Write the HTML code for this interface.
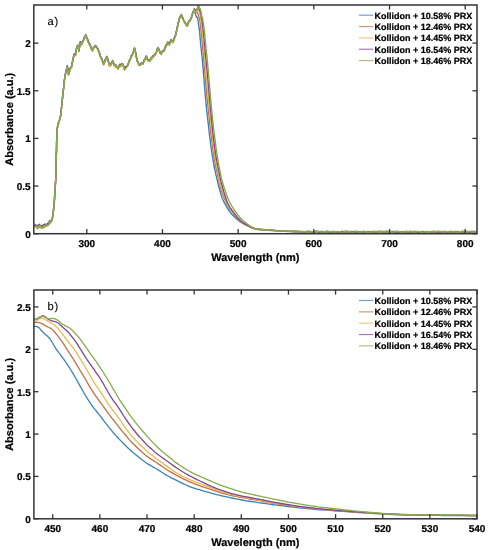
<!DOCTYPE html><html><head><meta charset="utf-8"><style>html,body{margin:0;padding:0;background:#fff;}svg{display:block;}text{font-family:"Liberation Sans",Arial,sans-serif;font-weight:bold;fill:#000;stroke:#000;stroke-width:0.22px;text-rendering:geometricPrecision;}</style></head><body>
<svg width="489" height="550" viewBox="0 0 489 550">
<rect width="489" height="550" fill="#fff"/>
<clipPath id="ca"><rect x="33.8" y="5.0" width="443.20" height="228.70"/></clipPath>
<clipPath id="cb"><rect x="33.9" y="290.0" width="443.10" height="228.80"/></clipPath>
<g clip-path="url(#ca)" fill="none" stroke-width="1.4" stroke-linejoin="round">
<polyline stroke="#3784bd" points="33.8,226.1 34.6,226.0 35.4,224.6 36.1,226.0 36.9,227.8 37.8,228.5 38.6,226.2 39.5,226.2 40.3,226.1 41.0,225.8 41.6,226.1 42.2,226.1 42.8,227.9 43.4,226.2 44.1,227.2 44.7,224.6 45.7,226.3 46.7,225.0 47.4,225.6 48.0,224.7 48.7,224.9 49.6,220.5 50.6,222.6 51.6,220.8 52.6,217.3 53.0,214.6 53.3,212.3 53.5,210.1 53.8,208.0 54.0,205.9 54.1,203.7 54.3,201.5 54.5,199.2 54.6,197.0 54.7,194.9 54.9,192.8 55.0,190.6 55.2,187.5 55.4,184.3 55.6,181.5 55.8,178.7 55.8,176.5 55.9,174.4 56.0,172.2 56.0,169.5 56.1,166.9 56.1,164.2 56.2,161.5 56.3,158.7 56.3,155.9 56.4,153.2 56.5,150.4 56.5,147.7 56.6,144.9 56.6,142.2 56.7,139.9 56.8,137.7 56.9,135.5 57.0,133.2 57.2,130.5 57.4,128.0 57.9,124.9 58.6,122.6 59.3,120.9 60.0,118.4 60.7,115.6 60.9,113.4 61.2,111.3 61.4,108.8 61.7,106.1 61.9,103.5 62.2,100.7 62.5,98.4 62.7,96.0 63.0,93.8 63.2,91.6 63.5,89.4 63.8,87.1 64.0,84.5 64.2,82.3 64.5,79.7 65.0,76.8 65.4,74.5 65.9,71.9 66.6,69.3 67.3,66.2 67.7,69.0 68.2,71.6 68.6,74.4 69.3,72.0 70.0,68.6 70.7,67.7 71.4,67.4 71.8,65.5 72.3,62.9 72.7,60.6 73.2,58.6 73.6,57.0 74.1,54.4 74.8,54.5 75.5,55.0 75.9,52.6 76.4,49.4 76.8,47.3 77.5,46.3 78.2,45.6 78.6,48.6 78.9,50.9 79.3,48.3 79.8,45.5 80.2,42.2 80.9,43.8 81.6,44.0 82.3,42.1 83.0,41.1 83.7,39.7 84.3,38.1 85.0,37.3 85.7,35.6 86.4,37.2 87.1,39.3 87.8,40.8 88.4,41.8 89.1,43.5 89.8,44.6 90.5,45.9 91.2,48.4 91.8,50.1 92.5,50.3 93.2,48.4 93.9,47.0 94.6,47.4 95.2,46.2 95.9,46.6 96.5,47.5 97.1,47.9 97.9,49.7 98.7,51.7 99.6,53.1 100.4,56.7 101.2,58.6 102.0,59.1 102.8,62.1 103.6,64.5 104.4,62.7 105.3,60.2 106.1,58.9 106.9,57.0 107.5,58.7 108.1,61.1 108.8,62.8 109.4,65.4 110.2,64.8 111.0,64.7 111.8,63.5 112.6,61.7 113.2,63.1 113.9,64.3 114.7,66.4 115.5,66.3 116.1,66.8 116.7,67.3 117.3,68.2 118.0,68.7 118.6,67.7 119.2,65.8 120.0,65.2 120.8,65.5 121.4,64.5 122.0,63.7 122.7,64.7 123.3,66.0 123.9,66.8 124.5,69.7 125.1,67.9 125.7,68.1 126.6,66.0 127.4,65.8 128.2,64.4 129.0,61.4 129.6,60.1 130.2,59.5 130.9,57.5 131.6,55.7 132.2,55.4 132.9,54.4 133.7,51.1 134.5,48.7 135.1,50.5 135.7,53.1 136.1,55.8 136.6,57.9 137.0,60.9 137.6,61.6 138.2,63.0 139.0,65.2 139.8,65.6 140.7,64.5 141.5,63.2 142.3,63.7 143.1,63.9 143.9,60.9 144.7,60.2 145.6,59.2 146.4,56.9 147.2,59.2 148.0,60.1 148.8,60.3 149.6,60.6 150.4,60.2 151.3,57.8 152.1,58.6 152.9,56.5 153.7,55.8 154.5,55.6 155.3,54.0 156.2,52.8 157.0,50.4 157.8,47.7 158.6,49.1 159.4,50.6 160.2,53.4 161.1,54.6 161.9,52.0 162.7,51.2 163.6,50.2 164.4,49.8 165.3,48.0 166.2,46.2 166.9,44.6 167.6,42.7 168.4,43.2 169.3,44.4 170.2,42.9 171.1,40.2 171.9,41.5 172.8,41.4 173.4,40.6 174.0,39.3 174.8,37.4 175.6,35.4 176.2,32.4 176.9,29.8 177.5,26.6 178.1,24.2 178.7,21.5 179.3,19.1 179.9,17.7 180.5,16.3 181.4,15.0 182.2,17.4 182.8,18.3 183.4,19.8 184.2,21.8 185.0,22.4 185.8,23.8 186.7,26.3 187.5,25.8 188.1,23.3 188.7,22.1 189.3,21.1 189.9,21.2 190.6,19.1 191.2,18.5 191.8,16.2 192.4,14.7 193.0,12.2 193.6,11.1 194.4,10.4 195.7,14.8 196.5,17.3 197.0,17.1 197.2,17.2 197.3,17.3 197.5,17.6 197.6,18.2 197.8,19.0 198.0,20.2 198.1,21.5 198.3,22.7 198.4,23.9 198.6,25.0 198.8,25.9 198.9,26.9 199.1,27.9 199.2,29.0 199.4,30.1 199.6,31.5 199.7,33.1 199.9,34.9 200.0,36.8 200.2,38.8 200.4,40.7 200.5,42.6 200.7,44.3 200.8,45.8 201.0,47.2 201.2,48.6 201.3,50.1 201.5,51.6 201.6,53.1 201.8,54.7 202.0,56.3 202.1,57.9 202.3,59.6 202.5,61.3 202.6,63.1 202.8,64.8 202.9,66.6 203.1,68.5 203.3,70.4 203.4,72.3 203.6,74.2 203.7,76.2 203.9,78.2 204.1,80.2 204.2,82.3 204.4,84.3 204.5,86.3 204.7,88.3 204.9,90.2 205.0,92.2 205.2,94.2 205.3,96.0 205.5,97.8 205.7,99.6 205.8,101.3 206.0,103.0 206.1,104.7 206.3,106.4 206.5,107.9 206.6,109.4 206.8,110.9 206.9,112.2 207.1,113.6 207.3,115.0 207.4,116.4 207.6,117.8 207.7,119.2 207.9,120.7 208.1,122.2 208.2,123.7 208.4,125.2 208.6,126.7 208.7,128.1 208.9,129.5 209.0,130.9 209.2,132.3 209.4,133.7 209.5,135.1 209.7,136.4 209.8,137.7 210.0,139.0 210.2,140.2 210.3,141.5 210.5,142.7 210.6,143.9 211.1,147.3 211.6,150.7 212.1,154.0 212.6,157.1 213.0,160.0 213.5,162.8 214.0,165.6 214.5,168.2 215.0,170.6 215.5,172.7 215.9,174.7 216.4,176.6 216.9,178.6 217.4,180.8 217.9,183.0 218.3,185.0 218.8,186.8 219.3,188.5 219.8,190.2 220.3,191.8 220.8,193.5 221.2,195.1 221.7,196.6 222.2,198.0 222.7,199.2 223.2,200.3 223.6,201.2 224.1,202.2 224.6,203.1 225.1,204.1 225.6,205.0 226.1,205.9 226.5,206.8 227.0,207.6 227.5,208.4 228.0,209.1 228.5,209.9 228.9,210.6 229.4,211.3 229.9,211.9 230.4,212.6 230.9,213.2 231.4,213.7 231.8,214.2 232.3,214.7 232.8,215.2 233.3,215.7 233.8,216.2 234.2,216.7 234.7,217.2 235.2,217.6 235.7,218.1 236.2,218.5 236.6,218.9 237.1,219.3 237.6,219.8 238.1,220.2 238.6,220.6 239.1,220.9 239.5,221.3 240.0,221.7 240.5,222.0 241.0,222.3 241.5,222.6 241.9,222.9 242.4,223.2 242.9,223.5 243.4,223.8 243.9,224.0 244.4,224.3 244.8,224.5 245.3,224.7 245.8,225.0 246.3,225.2 246.8,225.4 247.2,225.7 247.7,225.9 248.2,226.2 248.7,226.4 249.2,226.6 249.7,226.9 250.1,227.1 250.6,227.3 251.1,227.5 251.6,227.7 252.1,227.9 252.5,228.1 253.0,228.3 253.5,228.5 254.0,228.7 254.5,228.9 255.0,229.0 255.4,229.1 255.9,229.3 256.4,229.4 256.9,229.4 257.4,229.5 257.8,229.5 258.3,229.6 258.8,229.6 259.3,229.7 259.8,229.7 260.3,229.8 260.7,229.8 261.2,229.9 261.7,229.9 262.2,229.9 262.7,230.0 263.1,230.0 263.6,230.0 264.1,230.1 264.6,230.1 265.1,230.1 265.5,230.2 266.0,230.2 266.5,230.2 267.0,230.2 267.5,230.3 268.0,230.3 268.1,230.3 277.0,230.7 285.0,231.4 295.0,231.5 305.0,231.7 307.0,232.2 308.6,231.4 310.2,231.5 311.8,232.0 313.4,231.6 315.0,231.4 316.6,232.1 318.2,231.7 319.8,232.1 321.4,231.4 323.0,231.7 324.6,232.0 326.2,231.3 327.8,231.5 329.4,232.0 331.0,232.2 332.6,232.3 334.2,231.4 335.8,231.8 337.4,232.1 339.0,231.8 340.6,232.0 342.2,231.5 343.8,231.4 345.4,231.4 347.0,231.3 348.6,231.9 350.2,231.8 351.8,231.9 353.4,231.4 355.0,231.5 356.6,231.5 358.2,232.1 359.8,232.3 361.4,232.2 363.0,231.4 364.6,231.4 366.2,232.3 367.8,231.8 369.4,232.1 371.0,231.6 372.6,231.8 374.2,231.8 375.8,231.7 377.4,231.9 379.0,231.3 380.6,232.0 382.2,232.1 383.8,231.5 385.4,231.8 387.0,232.0 388.6,231.7 390.2,231.5 391.8,231.5 393.4,231.8 395.0,231.3 396.6,232.2 398.2,232.1 399.8,232.0 401.4,232.2 403.0,231.9 404.6,231.7 406.2,231.9 407.8,231.8 409.4,232.3 411.0,232.1 412.6,231.6 414.2,232.2 415.8,232.0 417.4,232.1 419.0,232.1 420.6,231.7 422.2,232.2 423.8,232.2 425.4,232.0 427.0,232.1 428.6,232.1 430.2,231.7 431.8,232.0 433.4,231.4 435.0,231.6 436.6,231.8 438.2,231.3 439.8,231.7 441.4,231.9 443.0,231.9 444.6,231.5 446.2,232.2 447.8,232.0 449.4,231.6 451.0,232.0 452.6,231.9 454.2,231.8 455.8,231.7 457.4,232.3 459.0,231.9 460.6,232.0 462.2,232.1 463.8,232.3 465.4,231.3 467.0,231.9 468.6,232.0 470.2,231.6 471.8,231.7 473.4,231.4 475.0,231.5 476.6,231.7 478.0,231.8"/>
<polyline stroke="#cb6d45" points="33.8,225.7 34.6,225.4 35.4,226.5 36.1,226.6 36.9,227.1 37.8,228.6 38.6,226.2 39.5,227.2 40.3,226.4 41.0,227.5 41.6,226.4 42.2,227.7 42.8,227.7 43.4,224.9 44.1,227.3 44.7,225.1 45.7,226.1 46.7,224.4 47.4,225.2 48.0,225.6 48.7,223.7 49.6,222.6 50.6,222.5 51.6,220.7 52.6,217.4 53.0,214.5 53.3,212.3 53.5,210.3 53.8,208.1 54.0,206.1 54.1,203.9 54.3,201.6 54.5,199.3 54.6,197.2 54.7,195.1 54.9,192.9 55.0,190.8 55.2,187.7 55.4,184.5 55.6,181.7 55.8,178.9 55.8,176.7 55.9,174.6 56.0,172.4 56.0,169.7 56.1,167.1 56.1,164.4 56.2,161.7 56.3,158.9 56.3,156.1 56.4,153.4 56.5,150.7 56.5,147.9 56.6,145.2 56.6,142.4 56.7,140.2 56.8,137.9 56.9,135.7 57.0,133.4 57.2,130.6 57.4,127.6 57.9,125.4 58.6,122.9 59.3,121.3 60.0,118.6 60.7,115.9 60.9,113.6 61.2,111.4 61.4,109.0 61.7,106.4 61.9,103.6 62.2,101.0 62.5,98.7 62.7,96.3 63.0,93.9 63.2,91.6 63.5,89.6 63.8,87.2 64.0,84.8 64.2,82.4 64.5,79.9 65.0,77.3 65.4,74.7 65.9,71.9 66.6,69.4 67.3,66.4 67.7,68.9 68.2,71.8 68.6,75.3 69.3,72.6 70.0,69.7 70.7,67.7 71.4,67.4 71.8,65.5 72.3,63.1 72.7,61.0 73.2,58.3 73.6,56.9 74.1,54.0 74.8,54.7 75.5,55.5 75.9,52.6 76.4,49.9 76.8,47.0 77.5,46.3 78.2,45.8 78.6,48.7 78.9,51.4 79.3,48.8 79.8,45.5 80.2,42.5 80.9,44.0 81.6,44.7 82.3,43.1 83.0,41.5 83.7,39.6 84.3,38.1 85.0,37.7 85.7,35.4 86.4,37.2 87.1,39.5 87.8,40.6 88.4,42.5 89.1,44.1 89.8,45.7 90.5,46.5 91.2,48.4 91.8,49.4 92.5,51.3 93.2,48.3 93.9,46.7 94.6,47.4 95.2,46.4 95.9,46.9 96.5,47.0 97.1,48.5 97.9,49.0 98.7,51.2 99.6,53.9 100.4,55.9 101.2,58.2 102.0,59.9 102.8,62.6 103.6,64.3 104.4,62.0 105.3,60.3 106.1,59.3 106.9,56.7 107.5,58.3 108.1,61.1 108.8,63.1 109.4,66.1 110.2,66.1 111.0,65.1 111.8,63.2 112.6,62.0 113.2,62.8 113.9,64.7 114.7,65.8 115.5,66.4 116.1,66.9 116.7,67.0 117.3,67.8 118.0,69.0 118.6,67.3 119.2,65.2 120.0,65.4 120.8,65.8 121.4,64.9 122.0,64.2 122.7,64.6 123.3,66.6 123.9,67.6 124.5,69.0 125.1,69.1 125.7,68.4 126.6,66.4 127.4,65.7 128.2,64.3 129.0,62.2 129.6,60.9 130.2,60.2 130.9,57.7 131.6,55.9 132.2,54.7 132.9,54.2 133.7,51.6 134.5,48.2 135.1,50.7 135.7,53.5 136.1,56.2 136.6,58.0 137.0,61.0 137.6,61.2 138.2,63.5 139.0,65.1 139.8,65.3 140.7,64.6 141.5,64.0 142.3,63.3 143.1,63.9 143.9,61.3 144.7,59.7 145.6,59.4 146.4,57.3 147.2,59.3 148.0,60.9 148.8,60.8 149.6,61.1 150.4,60.8 151.3,58.6 152.1,58.6 152.9,57.0 153.7,56.7 154.5,55.8 155.3,54.6 156.2,53.4 157.0,50.9 157.8,48.7 158.6,49.2 159.4,51.2 160.2,53.4 161.1,54.1 161.9,52.4 162.7,50.9 163.6,51.4 164.4,50.7 165.3,47.6 166.2,45.5 166.9,44.5 167.6,43.1 168.4,43.6 169.3,45.0 170.2,41.9 171.1,40.7 171.9,40.6 172.8,42.4 173.4,41.6 174.0,39.4 174.8,36.9 175.6,35.7 176.2,32.7 176.9,30.2 177.5,26.8 178.1,23.9 178.7,21.7 179.3,18.9 179.9,17.9 180.5,17.2 181.4,15.3 182.2,17.3 182.8,18.3 183.4,19.8 184.2,21.5 185.0,23.3 185.8,24.1 186.7,26.4 187.5,26.2 188.1,23.5 188.7,21.4 189.3,21.7 189.9,21.4 190.6,19.4 191.2,18.5 191.8,16.6 192.4,14.4 193.0,12.3 193.6,10.9 194.4,10.6 195.7,12.0 196.5,11.8 197.0,13.1 197.2,13.0 197.3,12.9 197.5,12.8 197.6,12.9 197.8,13.1 198.0,13.4 198.1,13.7 198.3,14.2 198.4,14.8 198.6,15.6 198.8,16.3 198.9,16.9 199.1,17.5 199.2,18.0 199.4,18.6 199.6,19.1 199.7,19.7 199.9,20.7 200.0,21.8 200.2,23.0 200.4,24.3 200.5,25.6 200.7,26.9 200.8,28.4 201.0,29.9 201.2,31.4 201.3,32.9 201.5,34.5 201.6,36.2 201.8,37.9 202.0,39.7 202.1,41.4 202.3,43.2 202.5,44.9 202.6,46.7 202.8,48.4 202.9,50.2 203.1,51.9 203.3,53.7 203.4,55.4 203.6,57.3 203.7,59.1 203.9,61.0 204.1,62.9 204.2,64.8 204.4,66.7 204.5,68.6 204.7,70.4 204.9,72.3 205.0,74.1 205.2,76.0 205.3,77.9 205.5,79.8 205.7,81.8 205.8,83.7 206.0,85.7 206.1,87.5 206.3,89.3 206.5,91.0 206.6,92.7 206.8,94.3 206.9,95.9 207.1,97.5 207.3,99.1 207.4,100.6 207.6,102.2 207.7,103.7 207.9,105.3 208.1,106.8 208.2,108.4 208.4,109.9 208.6,111.5 208.7,113.1 208.9,114.6 209.0,116.1 209.2,117.7 209.4,119.2 209.5,120.7 209.7,122.1 209.8,123.6 210.0,125.0 210.2,126.4 210.3,127.8 210.5,129.2 210.6,130.6 211.1,134.8 211.6,138.9 212.1,143.0 212.6,146.7 213.0,150.2 213.5,153.5 214.0,156.7 214.5,159.7 215.0,162.4 215.5,165.0 215.9,167.3 216.4,169.5 216.9,171.6 217.4,173.9 217.9,176.3 218.3,178.5 218.8,180.6 219.3,182.6 219.8,184.5 220.3,186.3 220.8,188.0 221.2,189.7 221.7,191.3 222.2,192.8 222.7,194.1 223.2,195.4 223.6,196.6 224.1,197.8 224.6,199.0 225.1,200.1 225.6,201.3 226.1,202.4 226.5,203.4 227.0,204.4 227.5,205.4 228.0,206.2 228.5,207.1 228.9,207.8 229.4,208.6 229.9,209.3 230.4,209.9 230.9,210.5 231.4,211.1 231.8,211.7 232.3,212.3 232.8,212.8 233.3,213.4 233.8,214.0 234.2,214.6 234.7,215.2 235.2,215.8 235.7,216.4 236.2,217.0 236.6,217.5 237.1,218.0 237.6,218.5 238.1,219.0 238.6,219.5 239.1,219.9 239.5,220.4 240.0,220.8 240.5,221.2 241.0,221.6 241.5,222.0 241.9,222.3 242.4,222.6 242.9,223.0 243.4,223.3 243.9,223.5 244.4,223.8 244.8,224.1 245.3,224.4 245.8,224.6 246.3,224.9 246.8,225.2 247.2,225.4 247.7,225.7 248.2,225.9 248.7,226.2 249.2,226.4 249.7,226.6 250.1,226.9 250.6,227.1 251.1,227.3 251.6,227.5 252.1,227.7 252.5,227.9 253.0,228.1 253.5,228.3 254.0,228.5 254.5,228.6 255.0,228.8 255.4,228.9 255.9,229.0 256.4,229.1 256.9,229.2 257.4,229.3 257.8,229.3 258.3,229.4 258.8,229.4 259.3,229.5 259.8,229.5 260.3,229.6 260.7,229.6 261.2,229.7 261.7,229.7 262.2,229.7 262.7,229.8 263.1,229.8 263.6,229.8 264.1,229.8 264.6,229.9 265.1,229.9 265.5,229.9 266.0,230.0 266.5,230.0 267.0,230.0 267.5,230.0 268.0,230.1 268.1,230.1 277.0,230.9 285.0,231.2 295.0,231.5 305.0,231.7 307.0,231.8 308.6,231.8 310.2,231.6 311.8,232.3 313.4,232.0 315.0,231.5 316.6,231.3 318.2,231.8 319.8,231.7 321.4,232.1 323.0,232.0 324.6,231.9 326.2,231.5 327.8,231.5 329.4,231.6 331.0,231.6 332.6,232.2 334.2,231.8 335.8,231.9 337.4,232.3 339.0,231.6 340.6,231.8 342.2,231.5 343.8,232.1 345.4,231.3 347.0,232.1 348.6,232.1 350.2,232.1 351.8,231.4 353.4,231.6 355.0,232.0 356.6,231.4 358.2,231.8 359.8,231.8 361.4,232.3 363.0,231.9 364.6,232.2 366.2,231.6 367.8,232.1 369.4,231.7 371.0,232.2 372.6,231.4 374.2,232.1 375.8,231.5 377.4,231.8 379.0,231.8 380.6,231.5 382.2,232.1 383.8,231.6 385.4,231.6 387.0,231.4 388.6,231.6 390.2,231.8 391.8,232.0 393.4,231.7 395.0,232.0 396.6,231.4 398.2,231.7 399.8,231.8 401.4,232.3 403.0,232.1 404.6,232.0 406.2,231.3 407.8,231.7 409.4,232.0 411.0,231.5 412.6,231.9 414.2,231.8 415.8,231.3 417.4,232.3 419.0,232.1 420.6,231.5 422.2,231.9 423.8,231.6 425.4,231.7 427.0,231.8 428.6,231.6 430.2,231.6 431.8,231.7 433.4,232.0 435.0,231.6 436.6,231.5 438.2,232.0 439.8,231.6 441.4,232.2 443.0,231.9 444.6,232.0 446.2,231.6 447.8,232.1 449.4,231.4 451.0,231.4 452.6,231.4 454.2,232.0 455.8,232.0 457.4,231.5 459.0,231.7 460.6,232.1 462.2,231.9 463.8,231.4 465.4,231.5 467.0,231.5 468.6,231.4 470.2,231.7 471.8,231.4 473.4,232.2 475.0,231.7 476.6,231.8 478.0,231.8"/>
<polyline stroke="#e5bb50" points="33.8,227.3 34.6,227.0 35.4,226.7 36.1,226.6 36.9,227.1 37.8,227.7 38.6,225.2 39.5,226.1 40.3,227.0 41.0,228.3 41.6,228.5 42.2,228.2 42.8,227.8 43.4,225.2 44.1,226.3 44.7,225.9 45.7,226.9 46.7,224.7 47.4,225.4 48.0,225.8 48.7,225.2 49.6,222.7 50.6,223.3 51.6,220.6 52.6,217.9 53.0,215.2 53.3,212.8 53.5,210.6 53.8,208.5 54.0,206.5 54.1,204.3 54.3,202.1 54.5,199.8 54.6,197.6 54.7,195.5 54.9,193.3 55.0,191.2 55.2,188.1 55.4,184.9 55.6,182.1 55.8,179.3 55.8,177.1 55.9,175.0 56.0,172.8 56.0,170.1 56.1,167.5 56.1,164.8 56.2,162.0 56.3,159.3 56.3,156.5 56.4,153.8 56.5,151.1 56.5,148.3 56.6,145.6 56.6,142.8 56.7,140.6 56.8,138.3 56.9,136.1 57.0,133.8 57.2,131.0 57.4,128.5 57.9,125.6 58.6,124.1 59.3,121.5 60.0,118.9 60.7,116.4 60.9,114.0 61.2,111.8 61.4,109.3 61.7,106.7 61.9,104.0 62.2,101.4 62.5,99.1 62.7,96.7 63.0,94.4 63.2,92.1 63.5,90.0 63.8,87.5 64.0,85.2 64.2,82.9 64.5,80.2 65.0,77.5 65.4,75.1 65.9,71.9 66.6,69.6 67.3,66.7 67.7,69.3 68.2,72.3 68.6,75.1 69.3,72.7 70.0,69.2 70.7,69.0 71.4,67.8 71.8,66.1 72.3,63.3 72.7,61.6 73.2,59.1 73.6,57.2 74.1,55.0 74.8,56.0 75.5,55.9 75.9,53.1 76.4,50.3 76.8,47.6 77.5,47.5 78.2,46.4 78.6,49.2 78.9,51.7 79.3,49.0 79.8,46.1 80.2,44.1 80.9,44.0 81.6,44.9 82.3,43.1 83.0,42.7 83.7,39.9 84.3,38.2 85.0,38.0 85.7,36.5 86.4,37.7 87.1,39.5 87.8,41.4 88.4,42.6 89.1,44.3 89.8,45.1 90.5,46.6 91.2,48.9 91.8,50.4 92.5,51.2 93.2,48.7 93.9,48.1 94.6,47.7 95.2,46.4 95.9,46.7 96.5,47.6 97.1,48.3 97.9,49.4 98.7,52.3 99.6,54.7 100.4,57.0 101.2,59.4 102.0,60.0 102.8,63.1 103.6,64.7 104.4,63.1 105.3,61.0 106.1,59.9 106.9,56.8 107.5,59.3 108.1,61.0 108.8,63.5 109.4,66.5 110.2,65.0 111.0,64.7 111.8,63.4 112.6,61.9 113.2,62.9 113.9,66.0 114.7,66.9 115.5,66.1 116.1,66.5 116.7,67.9 117.3,67.7 118.0,69.0 118.6,68.3 119.2,65.5 120.0,66.0 120.8,67.2 121.4,65.8 122.0,64.2 122.7,64.6 123.3,66.4 123.9,68.4 124.5,70.5 125.1,68.7 125.7,68.7 126.6,66.9 127.4,66.6 128.2,64.3 129.0,63.0 129.6,61.8 130.2,59.8 130.9,58.0 131.6,55.3 132.2,56.3 132.9,54.2 133.7,51.4 134.5,49.1 135.1,51.2 135.7,54.0 136.1,56.6 136.6,58.7 137.0,60.7 137.6,62.3 138.2,64.2 139.0,65.2 139.8,65.5 140.7,65.0 141.5,63.7 142.3,64.0 143.1,63.6 143.9,61.5 144.7,59.9 145.6,59.4 146.4,57.8 147.2,59.6 148.0,61.5 148.8,61.5 149.6,61.3 150.4,60.2 151.3,58.8 152.1,59.1 152.9,57.4 153.7,56.2 154.5,56.0 155.3,53.9 156.2,53.9 157.0,50.8 157.8,48.9 158.6,49.7 159.4,50.7 160.2,53.5 161.1,54.3 161.9,52.6 162.7,52.3 163.6,50.7 164.4,50.2 165.3,48.5 166.2,46.0 166.9,45.0 167.6,43.7 168.4,43.8 169.3,45.3 170.2,43.5 171.1,40.7 171.9,41.6 172.8,42.9 173.4,41.5 174.0,40.7 174.8,37.8 175.6,35.9 176.2,33.1 176.9,30.4 177.5,27.4 178.1,24.7 178.7,22.6 179.3,19.7 179.9,18.6 180.5,17.8 181.4,15.8 182.2,18.1 182.8,19.7 183.4,20.1 184.2,22.7 185.0,23.0 185.8,24.9 186.7,26.3 187.5,26.2 188.1,24.2 188.7,22.6 189.3,21.9 189.9,21.0 190.6,20.0 191.2,18.6 191.8,16.6 192.4,14.8 193.0,12.5 193.6,12.0 194.4,10.6 195.7,11.5 196.5,11.0 197.0,12.0 197.2,11.6 197.3,11.1 197.5,10.5 197.6,9.7 197.8,9.0 198.0,8.4 198.1,8.1 198.3,7.8 198.4,8.0 198.6,8.8 198.8,9.6 198.9,10.2 199.1,10.8 199.2,11.5 199.4,12.2 199.6,12.9 199.7,13.5 199.9,14.1 200.0,14.8 200.2,15.6 200.4,16.6 200.5,17.6 200.7,18.7 200.8,19.8 201.0,21.0 201.2,22.4 201.3,23.8 201.5,25.2 201.6,26.7 201.8,28.3 202.0,29.8 202.1,31.3 202.3,32.7 202.5,34.2 202.6,35.6 202.8,37.1 202.9,38.5 203.1,40.0 203.3,41.4 203.4,43.0 203.6,44.6 203.7,46.3 203.9,48.0 204.1,49.8 204.2,51.7 204.4,53.5 204.5,55.3 204.7,57.1 204.9,59.0 205.0,60.8 205.2,62.6 205.3,64.5 205.5,66.4 205.7,68.4 205.8,70.4 206.0,72.4 206.1,74.5 206.3,76.5 206.5,78.4 206.6,80.3 206.8,82.0 206.9,83.6 207.1,85.2 207.3,86.8 207.4,88.5 207.6,90.1 207.7,91.8 207.9,93.6 208.1,95.3 208.2,97.1 208.4,98.9 208.6,100.6 208.7,102.3 208.9,104.0 209.0,105.6 209.2,107.3 209.4,108.8 209.5,110.4 209.7,111.9 209.8,113.4 210.0,114.9 210.2,116.3 210.3,117.8 210.5,119.3 210.6,120.8 211.1,125.8 211.6,130.6 212.1,135.3 212.6,139.5 213.0,143.4 213.5,146.9 214.0,150.4 214.5,153.6 215.0,156.7 215.5,159.6 215.9,162.3 216.4,164.9 216.9,167.3 217.4,169.8 217.9,172.2 218.3,174.7 218.8,177.2 219.3,179.5 219.8,181.7 220.3,183.7 220.8,185.5 221.2,187.2 221.7,188.8 222.2,190.3 222.7,191.7 223.2,192.9 223.6,194.2 224.1,195.5 224.6,196.8 225.1,198.1 225.6,199.4 226.1,200.7 226.5,201.9 227.0,203.0 227.5,204.1 228.0,205.1 228.5,206.0 228.9,206.9 229.4,207.7 229.9,208.4 230.4,209.1 230.9,209.8 231.4,210.4 231.8,211.0 232.3,211.5 232.8,212.1 233.3,212.7 233.8,213.3 234.2,213.9 234.7,214.6 235.2,215.2 235.7,215.8 236.2,216.4 236.6,217.0 237.1,217.6 237.6,218.1 238.1,218.6 238.6,219.0 239.1,219.5 239.5,219.9 240.0,220.4 240.5,220.8 241.0,221.2 241.5,221.6 241.9,222.0 242.4,222.4 242.9,222.7 243.4,223.0 243.9,223.3 244.4,223.6 244.8,223.9 245.3,224.1 245.8,224.4 246.3,224.7 246.8,224.9 247.2,225.2 247.7,225.5 248.2,225.7 248.7,226.0 249.2,226.2 249.7,226.5 250.1,226.7 250.6,226.9 251.1,227.2 251.6,227.4 252.1,227.6 252.5,227.8 253.0,228.0 253.5,228.2 254.0,228.4 254.5,228.5 255.0,228.7 255.4,228.8 255.9,228.9 256.4,229.0 256.9,229.1 257.4,229.1 257.8,229.2 258.3,229.3 258.8,229.3 259.3,229.4 259.8,229.4 260.3,229.5 260.7,229.5 261.2,229.5 261.7,229.6 262.2,229.6 262.7,229.6 263.1,229.7 263.6,229.7 264.1,229.7 264.6,229.8 265.1,229.8 265.5,229.8 266.0,229.9 266.5,229.9 267.0,229.9 267.5,229.9 268.0,229.9 268.1,229.9 277.0,230.8 285.0,231.3 295.0,231.5 305.0,231.7 307.0,231.5 308.6,231.5 310.2,231.3 311.8,231.8 313.4,231.7 315.0,231.7 316.6,231.6 318.2,232.1 319.8,231.4 321.4,232.2 323.0,231.9 324.6,231.8 326.2,232.1 327.8,231.5 329.4,231.4 331.0,231.6 332.6,231.3 334.2,231.6 335.8,231.9 337.4,231.8 339.0,231.6 340.6,231.9 342.2,231.4 343.8,232.1 345.4,231.5 347.0,231.6 348.6,231.5 350.2,232.0 351.8,232.1 353.4,232.1 355.0,231.4 356.6,231.7 358.2,231.7 359.8,231.5 361.4,232.3 363.0,231.3 364.6,231.8 366.2,232.1 367.8,232.3 369.4,231.4 371.0,231.8 372.6,232.0 374.2,231.3 375.8,231.5 377.4,232.2 379.0,231.4 380.6,231.7 382.2,231.6 383.8,231.7 385.4,231.4 387.0,231.3 388.6,232.3 390.2,232.1 391.8,232.0 393.4,231.5 395.0,231.6 396.6,231.9 398.2,231.5 399.8,231.8 401.4,232.2 403.0,231.7 404.6,231.6 406.2,232.3 407.8,231.9 409.4,231.3 411.0,231.7 412.6,231.9 414.2,231.4 415.8,231.6 417.4,232.0 419.0,232.2 420.6,231.9 422.2,232.2 423.8,231.8 425.4,231.7 427.0,232.1 428.6,231.7 430.2,232.1 431.8,231.5 433.4,231.6 435.0,231.5 436.6,231.8 438.2,231.5 439.8,231.5 441.4,231.5 443.0,231.8 444.6,231.6 446.2,231.7 447.8,232.3 449.4,232.0 451.0,232.2 452.6,231.5 454.2,231.7 455.8,231.4 457.4,232.0 459.0,231.7 460.6,231.6 462.2,231.3 463.8,231.5 465.4,231.6 467.0,231.7 468.6,232.2 470.2,232.0 471.8,231.6 473.4,231.7 475.0,231.5 476.6,232.2 478.0,231.8"/>
<polyline stroke="#804794" points="33.8,225.5 34.6,225.8 35.4,225.3 36.1,226.6 36.9,225.2 37.8,226.3 38.6,224.9 39.5,224.2 40.3,226.2 41.0,225.6 41.6,227.2 42.2,226.7 42.8,225.3 43.4,224.9 44.1,224.9 44.7,224.0 45.7,224.6 46.7,224.6 47.4,223.3 48.0,224.1 48.7,223.5 49.6,220.9 50.6,221.2 51.6,220.2 52.6,216.4 53.0,213.9 53.3,211.6 53.5,209.4 53.8,207.2 54.0,205.3 54.1,203.1 54.3,200.9 54.5,198.6 54.6,196.4 54.7,194.3 54.9,192.1 55.0,190.0 55.2,186.8 55.4,183.7 55.6,180.9 55.8,178.1 55.8,175.9 55.9,173.8 56.0,171.6 56.0,168.9 56.1,166.3 56.1,163.6 56.2,160.8 56.3,158.1 56.3,155.3 56.4,152.6 56.5,149.9 56.5,147.1 56.6,144.4 56.6,141.6 56.7,139.3 56.8,137.1 56.9,134.8 57.0,132.6 57.2,129.8 57.4,127.1 57.9,124.4 58.6,122.2 59.3,120.4 60.0,117.6 60.7,115.0 60.9,112.9 61.2,110.5 61.4,108.1 61.7,105.5 61.9,102.8 62.2,100.0 62.5,97.8 62.7,95.5 63.0,93.2 63.2,90.9 63.5,88.6 63.8,86.3 64.0,83.9 64.2,81.5 64.5,79.2 65.0,76.2 65.4,73.9 65.9,71.1 66.6,68.4 67.3,65.4 67.7,68.1 68.2,70.9 68.6,74.0 69.3,71.7 70.0,68.4 70.7,67.2 71.4,67.0 71.8,64.7 72.3,62.3 72.7,60.2 73.2,58.1 73.6,55.9 74.1,54.0 74.8,55.3 75.5,54.7 75.9,51.8 76.4,49.0 76.8,46.3 77.5,45.4 78.2,45.0 78.6,48.0 78.9,50.7 79.3,47.8 79.8,45.1 80.2,41.6 80.9,42.2 81.6,43.7 82.3,41.7 83.0,40.8 83.7,39.5 84.3,37.2 85.0,36.1 85.7,34.5 86.4,36.4 87.1,37.9 87.8,39.4 88.4,41.7 89.1,42.8 89.8,44.1 90.5,45.8 91.2,48.0 91.8,49.2 92.5,50.2 93.2,48.1 93.9,47.1 94.6,47.2 95.2,45.3 95.9,45.6 96.5,47.1 97.1,47.2 97.9,49.1 98.7,50.9 99.6,53.2 100.4,56.2 101.2,58.1 102.0,58.6 102.8,61.7 103.6,63.8 104.4,61.7 105.3,59.5 106.1,57.9 106.9,56.2 107.5,57.9 108.1,59.9 108.8,62.0 109.4,64.3 110.2,64.1 111.0,63.8 111.8,62.0 112.6,60.4 113.2,61.7 113.9,63.6 114.7,65.5 115.5,64.4 116.1,65.4 116.7,67.0 117.3,67.2 118.0,68.0 118.6,67.0 119.2,65.2 120.0,64.1 120.8,65.1 121.4,64.0 122.0,63.4 122.7,63.6 123.3,65.6 123.9,66.4 124.5,69.0 125.1,67.7 125.7,66.7 126.6,66.3 127.4,65.8 128.2,63.8 129.0,61.4 129.6,59.9 130.2,59.1 130.9,56.8 131.6,55.1 132.2,55.0 132.9,53.1 133.7,50.4 134.5,47.8 135.1,50.0 135.7,52.4 136.1,55.0 136.6,57.5 137.0,60.6 137.6,61.5 138.2,61.9 139.0,64.3 139.8,64.8 140.7,64.4 141.5,62.6 142.3,63.2 143.1,63.4 143.9,60.1 144.7,59.4 145.6,57.4 146.4,55.8 147.2,58.3 148.0,60.4 148.8,60.4 149.6,59.4 150.4,59.2 151.3,57.2 152.1,57.4 152.9,55.9 153.7,55.2 154.5,54.3 155.3,53.7 156.2,52.6 157.0,49.4 157.8,47.5 158.6,48.6 159.4,50.4 160.2,52.8 161.1,53.3 161.9,52.0 162.7,50.7 163.6,50.7 164.4,48.9 165.3,46.6 166.2,44.6 166.9,44.6 167.6,42.0 168.4,43.1 169.3,43.1 170.2,41.5 171.1,39.5 171.9,40.5 172.8,40.9 173.4,40.6 174.0,38.7 174.8,36.3 175.6,34.9 176.2,31.8 176.9,28.9 177.5,26.0 178.1,23.1 178.7,21.5 179.3,18.3 179.9,16.9 180.5,15.7 181.4,14.4 182.2,17.5 182.8,17.5 183.4,19.8 184.2,21.1 185.0,22.1 185.8,24.0 186.7,25.3 187.5,24.7 188.1,22.8 188.7,21.2 189.3,20.5 189.9,19.8 190.6,19.4 191.2,18.0 191.8,15.8 192.4,13.5 193.0,12.3 193.6,11.0 194.4,8.6 195.7,11.0 196.5,9.5 197.0,9.1 197.2,9.1 197.3,9.1 197.5,8.8 197.6,8.2 197.8,7.5 198.0,6.8 198.1,6.3 198.3,5.7 198.4,5.4 198.6,5.8 198.8,6.5 198.9,7.3 199.1,8.2 199.2,9.1 199.4,9.8 199.6,10.2 199.7,10.6 199.9,11.1 200.0,11.4 200.2,11.7 200.4,12.0 200.5,12.3 200.7,12.9 200.8,13.5 201.0,14.3 201.2,15.4 201.3,16.4 201.5,17.5 201.6,18.5 201.8,19.5 202.0,20.5 202.1,21.4 202.3,22.5 202.5,23.7 202.6,24.9 202.8,26.2 202.9,27.6 203.1,29.0 203.3,30.5 203.4,32.0 203.6,33.5 203.7,35.1 203.9,36.7 204.1,38.5 204.2,40.3 204.4,42.1 204.5,44.0 204.7,45.8 204.9,47.6 205.0,49.4 205.2,51.2 205.3,52.9 205.5,54.6 205.7,56.2 205.8,57.8 206.0,59.4 206.1,60.9 206.3,62.5 206.5,64.1 206.6,65.8 206.8,67.4 206.9,68.9 207.1,70.5 207.3,72.1 207.4,73.8 207.6,75.5 207.7,77.3 207.9,79.2 208.1,81.2 208.2,83.2 208.4,85.2 208.6,87.2 208.7,89.1 208.9,91.0 209.0,93.0 209.2,94.9 209.4,96.8 209.5,98.6 209.7,100.2 209.8,101.8 210.0,103.3 210.2,104.9 210.3,106.4 210.5,108.0 210.6,109.6 211.1,114.9 211.6,120.2 212.1,125.1 212.6,129.7 213.0,134.1 213.5,138.3 214.0,142.2 214.5,145.9 215.0,149.4 215.5,152.8 215.9,155.9 216.4,158.8 216.9,161.4 217.4,163.9 217.9,166.3 218.3,168.7 218.8,171.2 219.3,173.6 219.8,176.0 220.3,178.3 220.8,180.4 221.2,182.4 221.7,184.3 222.2,186.1 222.7,187.9 223.2,189.6 223.6,191.2 224.1,192.8 224.6,194.4 225.1,196.0 225.6,197.5 226.1,199.0 226.5,200.3 227.0,201.5 227.5,202.7 228.0,203.8 228.5,204.8 228.9,205.7 229.4,206.6 229.9,207.4 230.4,208.1 230.9,208.8 231.4,209.4 231.8,210.0 232.3,210.6 232.8,211.2 233.3,211.8 233.8,212.5 234.2,213.2 234.7,213.9 235.2,214.5 235.7,215.2 236.2,215.9 236.6,216.5 237.1,217.1 237.6,217.6 238.1,218.2 238.6,218.7 239.1,219.2 239.5,219.6 240.0,220.1 240.5,220.6 241.0,221.0 241.5,221.4 241.9,221.8 242.4,222.2 242.9,222.5 243.4,222.8 243.9,223.1 244.4,223.4 244.8,223.7 245.3,224.0 245.8,224.3 246.3,224.5 246.8,224.8 247.2,225.1 247.7,225.4 248.2,225.6 248.7,225.9 249.2,226.1 249.7,226.4 250.1,226.6 250.6,226.8 251.1,227.1 251.6,227.3 252.1,227.5 252.5,227.7 253.0,227.9 253.5,228.1 254.0,228.3 254.5,228.4 255.0,228.6 255.4,228.7 255.9,228.8 256.4,228.9 256.9,229.0 257.4,229.0 257.8,229.1 258.3,229.1 258.8,229.2 259.3,229.2 259.8,229.3 260.3,229.3 260.7,229.4 261.2,229.4 261.7,229.5 262.2,229.5 262.7,229.5 263.1,229.6 263.6,229.6 264.1,229.6 264.6,229.7 265.1,229.7 265.5,229.7 266.0,229.7 266.5,229.8 267.0,229.8 267.5,229.8 268.0,229.8 268.1,229.8 277.0,230.6 285.0,231.1 295.0,231.5 305.0,231.7 307.0,231.4 308.6,231.4 310.2,231.7 311.8,232.1 313.4,231.6 315.0,231.8 316.6,231.3 318.2,231.5 319.8,232.3 321.4,231.3 323.0,231.8 324.6,232.1 326.2,232.1 327.8,232.0 329.4,231.7 331.0,232.1 332.6,232.1 334.2,232.1 335.8,232.3 337.4,231.4 339.0,232.3 340.6,231.7 342.2,232.0 343.8,231.6 345.4,232.2 347.0,231.3 348.6,231.9 350.2,231.5 351.8,231.7 353.4,231.7 355.0,232.0 356.6,232.1 358.2,231.7 359.8,231.9 361.4,231.7 363.0,231.6 364.6,232.2 366.2,231.6 367.8,231.4 369.4,231.6 371.0,232.0 372.6,231.5 374.2,232.0 375.8,231.8 377.4,232.0 379.0,231.5 380.6,231.4 382.2,231.4 383.8,231.7 385.4,231.7 387.0,231.3 388.6,231.8 390.2,231.7 391.8,231.6 393.4,231.8 395.0,232.3 396.6,231.5 398.2,232.2 399.8,231.6 401.4,232.1 403.0,231.4 404.6,232.3 406.2,231.7 407.8,232.3 409.4,231.5 411.0,231.7 412.6,232.0 414.2,231.5 415.8,231.6 417.4,232.0 419.0,232.2 420.6,231.6 422.2,231.5 423.8,231.7 425.4,232.3 427.0,231.4 428.6,231.9 430.2,231.7 431.8,231.9 433.4,231.5 435.0,231.9 436.6,232.2 438.2,232.2 439.8,231.9 441.4,231.8 443.0,231.9 444.6,231.4 446.2,232.1 447.8,232.0 449.4,231.8 451.0,232.0 452.6,231.7 454.2,231.7 455.8,231.5 457.4,231.9 459.0,231.9 460.6,231.8 462.2,231.3 463.8,231.9 465.4,231.7 467.0,231.9 468.6,231.9 470.2,232.2 471.8,231.5 473.4,231.8 475.0,232.3 476.6,232.0 478.0,231.8"/>
<polyline stroke="#84ae4c" points="33.8,225.8 34.6,226.1 35.4,226.3 36.1,225.9 36.9,227.6 37.8,226.3 38.6,226.8 39.5,225.5 40.3,225.1 41.0,227.1 41.6,227.4 42.2,228.1 42.8,227.5 43.4,226.3 44.1,226.0 44.7,226.7 45.7,224.8 46.7,225.7 47.4,225.3 48.0,224.4 48.7,224.5 49.6,221.1 50.6,222.4 51.6,220.8 52.6,216.7 53.0,214.1 53.3,212.0 53.5,209.7 53.8,207.7 54.0,205.7 54.1,203.5 54.3,201.2 54.5,199.0 54.6,196.8 54.7,194.7 54.9,192.6 55.0,190.4 55.2,187.3 55.4,184.1 55.6,181.3 55.8,178.5 55.8,176.3 55.9,174.2 56.0,172.0 56.0,169.3 56.1,166.7 56.1,164.0 56.2,161.2 56.3,158.5 56.3,155.7 56.4,153.0 56.5,150.2 56.5,147.5 56.6,144.7 56.6,142.0 56.7,139.8 56.8,137.5 56.9,135.2 57.0,133.0 57.2,130.3 57.4,127.2 57.9,124.8 58.6,122.7 59.3,121.0 60.0,117.9 60.7,115.5 60.9,113.3 61.2,110.9 61.4,108.5 61.7,106.0 61.9,103.2 62.2,100.4 62.5,98.1 62.7,96.0 63.0,93.6 63.2,91.3 63.5,89.0 63.8,86.9 64.0,84.4 64.2,82.1 64.5,79.5 65.0,76.7 65.4,74.3 65.9,71.1 66.6,69.0 67.3,65.9 67.7,68.7 68.2,71.5 68.6,74.5 69.3,71.8 70.0,69.4 70.7,67.7 71.4,67.4 71.8,65.1 72.3,62.8 72.7,60.3 73.2,58.5 73.6,56.3 74.1,54.9 74.8,55.3 75.5,55.0 75.9,52.4 76.4,49.3 76.8,47.2 77.5,46.1 78.2,45.5 78.6,48.2 78.9,50.9 79.3,48.2 79.8,45.3 80.2,43.4 80.9,42.8 81.6,44.4 82.3,42.6 83.0,41.1 83.7,39.2 84.3,37.5 85.0,37.4 85.7,34.9 86.4,36.5 87.1,38.4 87.8,40.7 88.4,42.4 89.1,43.5 89.8,44.9 90.5,45.8 91.2,48.7 91.8,49.0 92.5,50.3 93.2,48.3 93.9,47.4 94.6,47.2 95.2,45.8 95.9,46.8 96.5,47.6 97.1,47.2 97.9,49.3 98.7,51.1 99.6,53.2 100.4,56.0 101.2,57.9 102.0,59.5 102.8,62.1 103.6,64.8 104.4,62.5 105.3,60.7 106.1,58.5 106.9,56.7 107.5,58.4 108.1,60.7 108.8,63.1 109.4,64.3 110.2,65.0 111.0,64.1 111.8,63.1 112.6,61.0 113.2,63.2 113.9,64.1 114.7,65.4 115.5,64.9 116.1,65.7 116.7,67.3 117.3,67.0 118.0,68.4 118.6,67.2 119.2,65.2 120.0,65.6 120.8,65.5 121.4,64.8 122.0,63.7 122.7,64.5 123.3,65.4 123.9,67.1 124.5,68.4 125.1,68.8 125.7,68.1 126.6,66.9 127.4,65.3 128.2,63.7 129.0,61.7 129.6,60.4 130.2,58.9 130.9,57.4 131.6,54.7 132.2,54.9 132.9,53.5 133.7,51.0 134.5,47.8 135.1,50.3 135.7,53.0 136.1,55.5 136.6,58.0 137.0,60.1 137.6,61.2 138.2,62.2 139.0,64.1 139.8,65.2 140.7,64.7 141.5,63.1 142.3,63.5 143.1,62.7 143.9,61.5 144.7,59.0 145.6,59.0 146.4,56.7 147.2,58.8 148.0,60.6 148.8,60.6 149.6,61.1 150.4,59.7 151.3,57.6 152.1,57.2 152.9,56.8 153.7,56.1 154.5,55.3 155.3,53.2 156.2,52.6 157.0,49.5 157.8,47.6 158.6,48.5 159.4,51.1 160.2,52.8 161.1,54.3 161.9,51.5 162.7,50.9 163.6,49.9 164.4,49.4 165.3,46.9 166.2,46.0 166.9,44.2 167.6,42.8 168.4,43.8 169.3,44.5 170.2,42.7 171.1,40.7 171.9,40.8 172.8,42.3 173.4,40.7 174.0,39.2 174.8,37.3 175.6,35.1 176.2,32.2 176.9,29.5 177.5,26.7 178.1,23.7 178.7,21.5 179.3,18.8 179.9,17.2 180.5,16.9 181.4,14.4 182.2,17.3 182.8,18.3 183.4,19.6 184.2,21.2 185.0,22.1 185.8,23.8 186.7,25.6 187.5,25.5 188.1,22.9 188.7,21.8 189.3,20.7 189.9,19.9 190.6,19.1 191.2,18.5 191.8,15.3 192.4,14.1 193.0,12.8 193.6,10.9 194.4,9.7 195.7,11.5 196.5,10.5 197.0,10.0 197.2,9.6 197.3,9.0 197.5,8.4 197.6,7.9 197.8,7.4 198.0,6.9 198.1,6.5 198.3,6.0 198.4,5.8 198.6,6.2 198.8,7.0 198.9,7.6 199.1,8.2 199.2,8.6 199.4,9.0 199.6,8.8 199.7,8.5 199.9,8.3 200.0,8.4 200.2,8.6 200.4,8.9 200.5,9.4 200.7,10.0 200.8,10.8 201.0,11.6 201.2,12.6 201.3,13.4 201.5,14.3 201.6,15.1 201.8,15.9 202.0,16.5 202.1,17.0 202.3,17.6 202.5,18.2 202.6,18.8 202.8,19.6 202.9,20.4 203.1,21.5 203.3,22.6 203.4,23.8 203.6,25.0 203.7,26.2 203.9,27.4 204.1,28.6 204.2,29.9 204.4,31.3 204.5,32.8 204.7,34.4 204.9,36.0 205.0,37.6 205.2,39.2 205.3,40.8 205.5,42.4 205.7,44.1 205.8,45.7 206.0,47.3 206.1,48.9 206.3,50.5 206.5,52.1 206.6,53.6 206.8,55.2 206.9,56.7 207.1,58.3 207.3,59.9 207.4,61.6 207.6,63.3 207.7,65.1 207.9,66.9 208.1,68.6 208.2,70.4 208.4,72.2 208.6,74.0 208.7,75.8 208.9,77.7 209.0,79.5 209.2,81.4 209.4,83.4 209.5,85.3 209.7,87.2 209.8,89.2 210.0,91.1 210.2,93.1 210.3,95.1 210.5,97.0 210.6,98.9 211.1,104.0 211.6,109.1 212.1,114.0 212.6,118.7 213.0,123.2 213.5,127.5 214.0,131.6 214.5,135.5 215.0,139.4 215.5,143.2 215.9,147.0 216.4,150.5 216.9,153.8 217.4,156.8 217.9,159.7 218.3,162.4 218.8,165.1 219.3,167.9 219.8,170.5 220.3,173.0 220.8,175.2 221.2,177.4 221.7,179.4 222.2,181.2 222.7,182.9 223.2,184.5 223.6,186.0 224.1,187.5 224.6,189.0 225.1,190.4 225.6,191.9 226.1,193.3 226.5,194.7 227.0,196.0 227.5,197.3 228.0,198.4 228.5,199.6 228.9,200.7 229.4,201.7 229.9,202.7 230.4,203.6 230.9,204.4 231.4,205.3 231.8,206.1 232.3,206.8 232.8,207.6 233.3,208.3 233.8,209.0 234.2,209.7 234.7,210.4 235.2,211.1 235.7,211.8 236.2,212.5 236.6,213.2 237.1,213.9 237.6,214.6 238.1,215.2 238.6,215.8 239.1,216.4 239.5,217.0 240.0,217.5 240.5,218.1 241.0,218.6 241.5,219.1 241.9,219.6 242.4,220.0 242.9,220.5 243.4,220.9 243.9,221.3 244.4,221.7 244.8,222.0 245.3,222.4 245.8,222.8 246.3,223.2 246.8,223.6 247.2,223.9 247.7,224.3 248.2,224.7 248.7,225.0 249.2,225.4 249.7,225.7 250.1,226.0 250.6,226.3 251.1,226.6 251.6,226.9 252.1,227.2 252.5,227.5 253.0,227.7 253.5,227.9 254.0,228.1 254.5,228.3 255.0,228.5 255.4,228.6 255.9,228.7 256.4,228.8 256.9,228.9 257.4,228.9 257.8,229.0 258.3,229.0 258.8,229.1 259.3,229.1 259.8,229.2 260.3,229.2 260.7,229.3 261.2,229.3 261.7,229.4 262.2,229.4 262.7,229.4 263.1,229.4 263.6,229.5 264.1,229.5 264.6,229.5 265.1,229.6 265.5,229.6 266.0,229.6 266.5,229.7 267.0,229.7 267.5,229.7 268.0,229.7 268.1,229.7 277.0,230.7 285.0,231.1 295.0,231.5 305.0,231.7 307.0,231.9 308.6,231.9 310.2,231.6 311.8,231.8 313.4,231.8 315.0,232.1 316.6,231.4 318.2,231.4 319.8,231.6 321.4,231.6 323.0,232.1 324.6,231.7 326.2,232.2 327.8,231.7 329.4,231.6 331.0,232.0 332.6,231.4 334.2,232.3 335.8,232.1 337.4,231.6 339.0,231.6 340.6,232.1 342.2,232.1 343.8,231.9 345.4,231.4 347.0,232.1 348.6,231.3 350.2,231.9 351.8,231.9 353.4,232.2 355.0,231.9 356.6,231.3 358.2,232.2 359.8,232.1 361.4,231.9 363.0,231.3 364.6,232.0 366.2,231.7 367.8,232.0 369.4,232.3 371.0,232.2 372.6,231.4 374.2,232.1 375.8,231.7 377.4,232.1 379.0,231.7 380.6,231.7 382.2,231.7 383.8,231.4 385.4,231.6 387.0,232.0 388.6,231.4 390.2,231.4 391.8,232.1 393.4,232.0 395.0,231.8 396.6,231.4 398.2,231.4 399.8,231.6 401.4,232.3 403.0,231.9 404.6,232.2 406.2,231.5 407.8,231.7 409.4,231.8 411.0,232.1 412.6,231.4 414.2,232.2 415.8,231.8 417.4,231.3 419.0,231.7 420.6,231.7 422.2,232.0 423.8,232.2 425.4,231.8 427.0,232.0 428.6,231.7 430.2,232.1 431.8,231.4 433.4,232.0 435.0,231.5 436.6,231.9 438.2,231.5 439.8,231.6 441.4,231.5 443.0,231.6 444.6,231.9 446.2,231.8 447.8,231.7 449.4,231.9 451.0,232.1 452.6,231.7 454.2,231.9 455.8,231.8 457.4,232.3 459.0,231.6 460.6,232.0 462.2,231.5 463.8,231.6 465.4,232.0 467.0,231.9 468.6,231.6 470.2,231.4 471.8,232.1 473.4,231.7 475.0,232.0 476.6,231.7 478.0,231.8"/>
</g>
<g clip-path="url(#cb)" fill="none" stroke-width="1.3" stroke-linejoin="round">
<path stroke="#3784bd" d="M34.00,326.22 C34.17,326.23 34.67,326.25 35.00,326.28 C35.33,326.30 35.67,326.31 36.00,326.37 C36.33,326.43 36.67,326.50 37.00,326.63 C37.33,326.76 37.67,326.94 38.00,327.14 C38.33,327.34 38.67,327.55 39.00,327.85 C39.33,328.14 39.67,328.54 40.00,328.92 C40.33,329.30 40.67,329.73 41.00,330.11 C41.33,330.49 41.67,330.84 42.00,331.19 C42.33,331.54 42.67,331.87 43.00,332.20 C43.33,332.53 43.67,332.86 44.00,333.17 C44.33,333.48 44.67,333.76 45.00,334.05 C45.33,334.34 45.67,334.62 46.00,334.91 C46.33,335.20 46.67,335.50 47.00,335.80 C47.33,336.11 47.67,336.43 48.00,336.75 C48.33,337.08 48.67,337.38 49.00,337.75 C49.33,338.11 49.67,338.51 50.00,338.95 C50.33,339.40 50.67,339.89 51.00,340.39 C51.33,340.90 51.67,341.42 52.00,341.98 C52.33,342.53 52.67,343.13 53.00,343.72 C53.33,344.30 53.67,344.90 54.00,345.47 C54.33,346.05 54.67,346.61 55.00,347.17 C55.33,347.72 55.67,348.29 56.00,348.82 C56.33,349.35 56.67,349.86 57.00,350.34 C57.33,350.81 57.67,351.23 58.00,351.67 C58.33,352.11 58.67,352.53 59.00,352.96 C59.33,353.38 59.67,353.80 60.00,354.22 C60.33,354.65 60.67,355.08 61.00,355.51 C61.33,355.95 61.67,356.38 62.00,356.83 C62.33,357.27 62.67,357.72 63.00,358.18 C63.33,358.64 63.67,359.10 64.00,359.58 C64.33,360.05 64.67,360.53 65.00,361.02 C65.33,361.50 65.67,362.00 66.00,362.49 C66.33,362.99 66.67,363.49 67.00,364.00 C67.33,364.50 67.67,365.01 68.00,365.52 C68.33,366.03 68.67,366.55 69.00,367.07 C69.33,367.59 69.67,368.11 70.00,368.64 C70.33,369.17 70.67,369.70 71.00,370.24 C71.33,370.79 71.67,371.33 72.00,371.89 C72.33,372.44 72.67,373.00 73.00,373.56 C73.33,374.12 73.67,374.69 74.00,375.25 C74.33,375.82 74.67,376.39 75.00,376.97 C75.33,377.55 75.67,378.13 76.00,378.72 C76.33,379.31 76.67,379.91 77.00,380.51 C77.33,381.11 77.67,381.72 78.00,382.32 C78.33,382.92 78.67,383.53 79.00,384.13 C79.33,384.73 79.67,385.33 80.00,385.92 C80.33,386.51 80.67,387.10 81.00,387.69 C81.33,388.28 81.67,388.87 82.00,389.46 C82.33,390.05 82.67,390.64 83.00,391.22 C83.33,391.81 83.67,392.40 84.00,392.98 C84.33,393.56 84.67,394.14 85.00,394.71 C85.33,395.27 85.67,395.83 86.00,396.37 C86.33,396.92 86.67,397.45 87.00,397.97 C87.33,398.50 87.67,399.01 88.00,399.52 C88.33,400.03 88.67,400.54 89.00,401.05 C89.33,401.55 89.67,402.06 90.00,402.57 C90.33,403.07 90.67,403.58 91.00,404.08 C91.33,404.58 91.67,405.07 92.00,405.56 C92.33,406.04 92.67,406.51 93.00,406.97 C93.33,407.43 93.67,407.87 94.00,408.30 C94.33,408.73 94.67,409.15 95.00,409.56 C95.33,409.97 95.67,410.37 96.00,410.78 C96.33,411.19 96.67,411.59 97.00,411.99 C97.33,412.40 97.67,412.81 98.00,413.22 C98.33,413.63 98.67,414.04 99.00,414.45 C99.33,414.87 99.67,415.28 100.00,415.71 C100.33,416.13 100.67,416.56 101.00,416.99 C101.33,417.43 101.67,417.87 102.00,418.32 C102.33,418.76 102.67,419.21 103.00,419.67 C103.33,420.12 103.67,420.57 104.00,421.02 C104.33,421.47 104.67,421.91 105.00,422.35 C105.33,422.79 105.67,423.22 106.00,423.65 C106.33,424.08 106.67,424.50 107.00,424.92 C107.33,425.34 107.67,425.75 108.00,426.17 C108.33,426.59 108.67,427.00 109.00,427.42 C109.33,427.83 109.67,428.25 110.00,428.66 C110.33,429.07 110.67,429.48 111.00,429.89 C111.33,430.30 111.67,430.70 112.00,431.10 C112.33,431.50 112.67,431.89 113.00,432.28 C113.33,432.67 113.67,433.06 114.00,433.44 C114.33,433.82 114.67,434.20 115.00,434.57 C115.33,434.95 115.67,435.32 116.00,435.69 C116.33,436.06 116.67,436.42 117.00,436.78 C117.33,437.15 117.67,437.51 118.00,437.86 C118.33,438.22 118.33,438.24 119.00,438.92 C119.67,439.60 121.00,440.93 122.00,441.94 C123.00,442.95 124.00,443.97 125.00,444.97 C126.00,445.97 127.00,446.97 128.00,447.93 C129.00,448.88 130.00,449.81 131.00,450.70 C132.00,451.60 133.00,452.44 134.00,453.29 C135.00,454.14 136.00,454.97 137.00,455.79 C138.00,456.62 139.00,457.45 140.00,458.25 C141.00,459.05 142.00,459.84 143.00,460.58 C144.00,461.32 145.00,462.02 146.00,462.69 C147.00,463.36 148.00,463.99 149.00,464.60 C150.00,465.21 151.00,465.77 152.00,466.34 C153.00,466.92 154.00,467.46 155.00,468.05 C156.00,468.63 157.00,469.21 158.00,469.83 C159.00,470.45 160.00,471.10 161.00,471.74 C162.00,472.39 163.00,473.06 164.00,473.68 C165.00,474.30 166.00,474.89 167.00,475.46 C168.00,476.02 169.00,476.54 170.00,477.07 C171.00,477.59 172.00,478.09 173.00,478.59 C174.00,479.09 175.00,479.58 176.00,480.08 C177.00,480.58 178.00,481.07 179.00,481.57 C180.00,482.07 181.00,482.57 182.00,483.06 C183.00,483.55 184.00,484.04 185.00,484.50 C186.00,484.97 187.00,485.42 188.00,485.85 C189.00,486.28 190.00,486.70 191.00,487.08 C192.00,487.46 193.00,487.82 194.00,488.15 C195.00,488.49 196.00,488.79 197.00,489.08 C198.00,489.36 199.00,489.60 200.00,489.88 C201.00,490.16 202.00,490.47 203.00,490.76 C204.00,491.05 205.00,491.34 206.00,491.62 C207.00,491.91 208.00,492.19 209.00,492.48 C210.00,492.76 211.00,493.04 212.00,493.31 C213.00,493.58 214.00,493.85 215.00,494.11 C216.00,494.37 217.00,494.63 218.00,494.87 C219.00,495.12 220.00,495.36 221.00,495.60 C222.00,495.83 223.00,496.06 224.00,496.29 C225.00,496.51 226.00,496.74 227.00,496.96 C228.00,497.18 229.00,497.40 230.00,497.61 C231.00,497.83 232.00,498.04 233.00,498.25 C234.00,498.46 235.00,498.66 236.00,498.86 C237.00,499.06 238.00,499.26 239.00,499.45 C240.00,499.64 241.00,499.83 242.00,500.01 C243.00,500.19 244.00,500.36 245.00,500.53 C246.00,500.70 247.00,500.87 248.00,501.03 C249.00,501.18 250.00,501.34 251.00,501.49 C252.00,501.64 253.00,501.79 254.00,501.94 C255.00,502.09 256.00,502.23 257.00,502.38 C258.00,502.52 259.00,502.67 260.00,502.81 C261.00,502.95 262.00,503.10 263.00,503.24 C264.00,503.38 265.00,503.53 266.00,503.67 C267.00,503.81 268.00,503.95 269.00,504.09 C270.00,504.23 271.00,504.37 272.00,504.50 C273.00,504.64 274.00,504.77 275.00,504.90 C276.00,505.03 277.00,505.16 278.00,505.29 C279.00,505.42 280.00,505.54 281.00,505.66 C282.00,505.79 283.00,505.91 284.00,506.03 C285.00,506.16 286.00,506.28 287.00,506.40 C288.00,506.52 289.00,506.64 290.00,506.76 C291.00,506.88 292.00,507.00 293.00,507.11 C294.00,507.23 295.00,507.34 296.00,507.45 C297.00,507.56 298.00,507.67 299.00,507.78 C300.00,507.89 301.00,507.99 302.00,508.09 C303.00,508.19 304.00,508.29 305.00,508.39 C306.00,508.49 307.00,508.58 308.00,508.68 C309.00,508.77 310.00,508.87 311.00,508.96 C312.00,509.05 313.00,509.14 314.00,509.23 C315.00,509.32 316.00,509.41 317.00,509.49 C318.00,509.58 319.00,509.66 320.00,509.74 C321.00,509.82 322.00,509.90 323.00,509.97 C324.00,510.05 325.00,510.12 326.00,510.19 C327.00,510.26 328.00,510.33 329.00,510.40 C330.00,510.47 331.00,510.54 332.00,510.61 C333.00,510.68 334.00,510.75 335.00,510.82 C336.00,510.89 337.00,510.96 338.00,511.03 C339.00,511.10 340.00,511.17 341.00,511.24 C342.00,511.32 343.00,511.39 344.00,511.46 C345.00,511.53 346.00,511.61 347.00,511.68 C348.00,511.75 349.00,511.82 350.00,511.89 C351.00,511.96 352.00,512.04 353.00,512.11 C354.00,512.18 355.00,512.25 356.00,512.31 C357.00,512.38 358.00,512.45 359.00,512.52 C360.00,512.59 361.00,512.65 362.00,512.72 C363.00,512.79 364.00,512.85 365.00,512.92 C366.00,512.99 367.00,513.05 368.00,513.11 C369.00,513.18 370.00,513.24 371.00,513.31 C372.00,513.37 373.00,513.43 374.00,513.49 C375.00,513.56 376.00,513.62 377.00,513.68 C378.00,513.74 379.00,513.80 380.00,513.86 C381.00,513.92 382.00,513.97 383.00,514.03 C384.00,514.09 385.00,514.14 386.00,514.20 C387.00,514.25 388.00,514.30 389.00,514.35 C390.00,514.40 391.00,514.45 392.00,514.50 C393.00,514.55 394.00,514.59 395.00,514.64 C396.00,514.68 397.00,514.72 398.00,514.75 C399.00,514.79 400.00,514.82 401.00,514.85 C402.00,514.88 403.00,514.91 404.00,514.93 C405.00,514.96 406.00,514.98 407.00,515.00 C408.00,515.02 409.00,515.03 410.00,515.05 C411.00,515.07 412.00,515.08 413.00,515.10 C414.00,515.11 415.00,515.13 416.00,515.14 C417.00,515.16 418.00,515.18 419.00,515.19 C420.00,515.21 421.00,515.22 422.00,515.24 C423.00,515.25 424.00,515.27 425.00,515.28 C426.00,515.30 427.00,515.31 428.00,515.32 C429.00,515.34 430.00,515.35 431.00,515.36 C432.00,515.38 433.00,515.39 434.00,515.40 C435.00,515.41 436.00,515.42 437.00,515.43 C438.00,515.44 439.00,515.45 440.00,515.46 C441.00,515.47 442.00,515.48 443.00,515.49 C444.00,515.50 445.00,515.51 446.00,515.52 C447.00,515.53 448.00,515.54 449.00,515.55 C450.00,515.56 451.00,515.57 452.00,515.57 C453.00,515.58 454.00,515.59 455.00,515.60 C456.00,515.61 457.00,515.62 458.00,515.63 C459.00,515.64 460.00,515.65 461.00,515.66 C462.00,515.66 463.00,515.67 464.00,515.68 C465.00,515.69 466.00,515.70 467.00,515.70 C468.00,515.71 469.00,515.72 470.00,515.73 C471.00,515.73 472.00,515.74 473.00,515.74 C474.00,515.75 475.33,515.75 476.00,515.76 C476.67,515.76 476.83,515.76 477.00,515.76"/>
<path stroke="#cb6d45" d="M34.00,322.65 C34.17,322.63 34.67,322.59 35.00,322.55 C35.33,322.51 35.67,322.44 36.00,322.41 C36.33,322.39 36.67,322.37 37.00,322.38 C37.33,322.39 37.67,322.44 38.00,322.49 C38.33,322.53 38.67,322.57 39.00,322.64 C39.33,322.70 39.67,322.78 40.00,322.88 C40.33,322.97 40.67,323.08 41.00,323.20 C41.33,323.32 41.67,323.43 42.00,323.59 C42.33,323.75 42.67,323.96 43.00,324.17 C43.33,324.38 43.67,324.64 44.00,324.86 C44.33,325.09 44.67,325.31 45.00,325.51 C45.33,325.70 45.67,325.86 46.00,326.03 C46.33,326.20 46.67,326.35 47.00,326.51 C47.33,326.67 47.67,326.83 48.00,327.00 C48.33,327.16 48.67,327.32 49.00,327.48 C49.33,327.64 49.67,327.80 50.00,327.97 C50.33,328.14 50.67,328.29 51.00,328.52 C51.33,328.75 51.67,329.04 52.00,329.35 C52.33,329.65 52.67,330.02 53.00,330.36 C53.33,330.71 53.67,331.06 54.00,331.42 C54.33,331.79 54.67,332.17 55.00,332.55 C55.33,332.93 55.67,333.31 56.00,333.70 C56.33,334.10 56.67,334.50 57.00,334.92 C57.33,335.34 57.67,335.78 58.00,336.22 C58.33,336.66 58.67,337.10 59.00,337.54 C59.33,337.98 59.67,338.43 60.00,338.88 C60.33,339.33 60.67,339.78 61.00,340.25 C61.33,340.71 61.67,341.18 62.00,341.66 C62.33,342.14 62.67,342.64 63.00,343.14 C63.33,343.64 63.67,344.16 64.00,344.68 C64.33,345.19 64.67,345.72 65.00,346.24 C65.33,346.76 65.67,347.28 66.00,347.80 C66.33,348.33 66.67,348.85 67.00,349.37 C67.33,349.89 67.67,350.40 68.00,350.92 C68.33,351.44 68.67,351.96 69.00,352.47 C69.33,352.99 69.67,353.51 70.00,354.02 C70.33,354.54 70.67,355.06 71.00,355.58 C71.33,356.09 71.67,356.61 72.00,357.13 C72.33,357.65 72.67,358.17 73.00,358.69 C73.33,359.22 73.67,359.75 74.00,360.28 C74.33,360.82 74.67,361.36 75.00,361.91 C75.33,362.46 75.67,363.01 76.00,363.57 C76.33,364.13 76.67,364.69 77.00,365.25 C77.33,365.82 77.67,366.38 78.00,366.94 C78.33,367.50 78.67,368.06 79.00,368.62 C79.33,369.18 79.67,369.74 80.00,370.29 C80.33,370.85 80.67,371.40 81.00,371.95 C81.33,372.51 81.67,373.05 82.00,373.60 C82.33,374.15 82.67,374.69 83.00,375.24 C83.33,375.79 83.67,376.33 84.00,376.88 C84.33,377.43 84.67,377.98 85.00,378.54 C85.33,379.10 85.67,379.66 86.00,380.23 C86.33,380.80 86.67,381.38 87.00,381.96 C87.33,382.53 87.67,383.12 88.00,383.70 C88.33,384.28 88.67,384.87 89.00,385.45 C89.33,386.02 89.67,386.60 90.00,387.17 C90.33,387.73 90.67,388.29 91.00,388.83 C91.33,389.37 91.67,389.90 92.00,390.41 C92.33,390.93 92.67,391.43 93.00,391.93 C93.33,392.42 93.67,392.91 94.00,393.39 C94.33,393.88 94.67,394.36 95.00,394.84 C95.33,395.32 95.67,395.80 96.00,396.28 C96.33,396.76 96.67,397.23 97.00,397.70 C97.33,398.17 97.67,398.64 98.00,399.10 C98.33,399.57 98.67,400.02 99.00,400.48 C99.33,400.94 99.67,401.39 100.00,401.85 C100.33,402.30 100.67,402.76 101.00,403.21 C101.33,403.67 101.67,404.12 102.00,404.58 C102.33,405.04 102.67,405.50 103.00,405.96 C103.33,406.43 103.67,406.89 104.00,407.35 C104.33,407.81 104.67,408.28 105.00,408.74 C105.33,409.20 105.67,409.66 106.00,410.13 C106.33,410.59 106.67,411.05 107.00,411.51 C107.33,411.97 107.67,412.43 108.00,412.89 C108.33,413.35 108.67,413.81 109.00,414.26 C109.33,414.72 109.67,415.17 110.00,415.62 C110.33,416.07 110.67,416.52 111.00,416.96 C111.33,417.41 111.67,417.85 112.00,418.29 C112.33,418.73 112.67,419.17 113.00,419.60 C113.33,420.03 113.67,420.46 114.00,420.89 C114.33,421.32 114.67,421.74 115.00,422.16 C115.33,422.58 115.67,423.00 116.00,423.41 C116.33,423.83 116.67,424.24 117.00,424.65 C117.33,425.06 117.67,425.47 118.00,425.88 C118.33,426.29 118.33,426.28 119.00,427.10 C119.67,427.93 121.00,429.59 122.00,430.83 C123.00,432.07 124.00,433.32 125.00,434.53 C126.00,435.75 127.00,436.96 128.00,438.12 C129.00,439.28 130.00,440.39 131.00,441.47 C132.00,442.54 133.00,443.56 134.00,444.56 C135.00,445.57 136.00,446.53 137.00,447.49 C138.00,448.44 139.00,449.38 140.00,450.29 C141.00,451.20 142.00,452.10 143.00,452.95 C144.00,453.81 145.00,454.64 146.00,455.42 C147.00,456.21 148.00,456.96 149.00,457.68 C150.00,458.40 151.00,459.07 152.00,459.74 C153.00,460.40 154.00,461.02 155.00,461.67 C156.00,462.31 157.00,462.93 158.00,463.59 C159.00,464.25 160.00,464.94 161.00,465.62 C162.00,466.31 163.00,467.03 164.00,467.72 C165.00,468.40 166.00,469.08 167.00,469.72 C168.00,470.37 169.00,470.99 170.00,471.59 C171.00,472.20 172.00,472.78 173.00,473.35 C174.00,473.92 175.00,474.47 176.00,475.02 C177.00,475.56 178.00,476.09 179.00,476.62 C180.00,477.14 181.00,477.65 182.00,478.16 C183.00,478.67 184.00,479.18 185.00,479.66 C186.00,480.15 187.00,480.63 188.00,481.09 C189.00,481.54 190.00,481.97 191.00,482.39 C192.00,482.81 193.00,483.21 194.00,483.61 C195.00,484.01 196.00,484.42 197.00,484.78 C198.00,485.15 199.00,485.46 200.00,485.80 C201.00,486.15 202.00,486.52 203.00,486.87 C204.00,487.22 205.00,487.57 206.00,487.91 C207.00,488.26 208.00,488.60 209.00,488.94 C210.00,489.28 211.00,489.61 212.00,489.95 C213.00,490.28 214.00,490.61 215.00,490.93 C216.00,491.25 217.00,491.57 218.00,491.87 C219.00,492.18 220.00,492.48 221.00,492.76 C222.00,493.05 223.00,493.33 224.00,493.60 C225.00,493.87 226.00,494.13 227.00,494.38 C228.00,494.64 229.00,494.88 230.00,495.12 C231.00,495.36 232.00,495.58 233.00,495.81 C234.00,496.03 235.00,496.24 236.00,496.45 C237.00,496.66 238.00,496.87 239.00,497.06 C240.00,497.26 241.00,497.46 242.00,497.65 C243.00,497.83 244.00,498.02 245.00,498.20 C246.00,498.38 247.00,498.56 248.00,498.73 C249.00,498.90 250.00,499.07 251.00,499.24 C252.00,499.40 253.00,499.57 254.00,499.73 C255.00,499.89 256.00,500.05 257.00,500.22 C258.00,500.38 259.00,500.55 260.00,500.72 C261.00,500.89 262.00,501.06 263.00,501.24 C264.00,501.42 265.00,501.60 266.00,501.78 C267.00,501.96 268.00,502.15 269.00,502.33 C270.00,502.51 271.00,502.70 272.00,502.87 C273.00,503.05 274.00,503.23 275.00,503.40 C276.00,503.57 277.00,503.74 278.00,503.91 C279.00,504.07 280.00,504.24 281.00,504.39 C282.00,504.55 283.00,504.71 284.00,504.86 C285.00,505.01 286.00,505.16 287.00,505.31 C288.00,505.46 289.00,505.60 290.00,505.74 C291.00,505.88 292.00,506.02 293.00,506.15 C294.00,506.29 295.00,506.42 296.00,506.56 C297.00,506.69 298.00,506.82 299.00,506.94 C300.00,507.07 301.00,507.19 302.00,507.32 C303.00,507.44 304.00,507.56 305.00,507.68 C306.00,507.80 307.00,507.91 308.00,508.02 C309.00,508.14 310.00,508.25 311.00,508.36 C312.00,508.46 313.00,508.57 314.00,508.67 C315.00,508.77 316.00,508.87 317.00,508.97 C318.00,509.06 319.00,509.16 320.00,509.25 C321.00,509.34 322.00,509.43 323.00,509.51 C324.00,509.60 325.00,509.68 326.00,509.77 C327.00,509.85 328.00,509.93 329.00,510.01 C330.00,510.09 331.00,510.17 332.00,510.25 C333.00,510.33 334.00,510.41 335.00,510.49 C336.00,510.57 337.00,510.65 338.00,510.73 C339.00,510.81 340.00,510.89 341.00,510.97 C342.00,511.05 343.00,511.13 344.00,511.20 C345.00,511.28 346.00,511.36 347.00,511.44 C348.00,511.52 349.00,511.59 350.00,511.67 C351.00,511.74 352.00,511.82 353.00,511.89 C354.00,511.97 355.00,512.04 356.00,512.11 C357.00,512.18 358.00,512.25 359.00,512.32 C360.00,512.39 361.00,512.45 362.00,512.52 C363.00,512.59 364.00,512.65 365.00,512.72 C366.00,512.79 367.00,512.85 368.00,512.91 C369.00,512.98 370.00,513.04 371.00,513.11 C372.00,513.17 373.00,513.23 374.00,513.29 C375.00,513.36 376.00,513.42 377.00,513.48 C378.00,513.54 379.00,513.60 380.00,513.66 C381.00,513.72 382.00,513.77 383.00,513.83 C384.00,513.89 385.00,513.94 386.00,514.00 C387.00,514.05 388.00,514.10 389.00,514.15 C390.00,514.20 391.00,514.25 392.00,514.30 C393.00,514.35 394.00,514.39 395.00,514.44 C396.00,514.48 397.00,514.52 398.00,514.55 C399.00,514.59 400.00,514.62 401.00,514.65 C402.00,514.68 403.00,514.71 404.00,514.73 C405.00,514.76 406.00,514.78 407.00,514.80 C408.00,514.82 409.00,514.83 410.00,514.85 C411.00,514.87 412.00,514.88 413.00,514.90 C414.00,514.91 415.00,514.93 416.00,514.94 C417.00,514.96 418.00,514.98 419.00,514.99 C420.00,515.01 421.00,515.02 422.00,515.04 C423.00,515.05 424.00,515.07 425.00,515.08 C426.00,515.10 427.00,515.11 428.00,515.12 C429.00,515.14 430.00,515.15 431.00,515.16 C432.00,515.18 433.00,515.19 434.00,515.20 C435.00,515.21 436.00,515.22 437.00,515.23 C438.00,515.24 439.00,515.25 440.00,515.26 C441.00,515.27 442.00,515.28 443.00,515.29 C444.00,515.30 445.00,515.31 446.00,515.32 C447.00,515.33 448.00,515.34 449.00,515.35 C450.00,515.36 451.00,515.37 452.00,515.37 C453.00,515.38 454.00,515.39 455.00,515.40 C456.00,515.41 457.00,515.42 458.00,515.43 C459.00,515.44 460.00,515.45 461.00,515.46 C462.00,515.46 463.00,515.47 464.00,515.48 C465.00,515.49 466.00,515.50 467.00,515.50 C468.00,515.51 469.00,515.52 470.00,515.53 C471.00,515.53 472.00,515.54 473.00,515.54 C474.00,515.55 475.33,515.55 476.00,515.56 C476.67,515.56 476.83,515.56 477.00,515.56"/>
<path stroke="#e5bb50" d="M34.00,321.64 C34.17,321.58 34.67,321.44 35.00,321.31 C35.33,321.17 35.67,321.00 36.00,320.83 C36.33,320.66 36.67,320.47 37.00,320.27 C37.33,320.07 37.67,319.84 38.00,319.62 C38.33,319.40 38.67,319.15 39.00,318.96 C39.33,318.77 39.67,318.61 40.00,318.48 C40.33,318.34 40.67,318.26 41.00,318.16 C41.33,318.07 41.67,317.93 42.00,317.92 C42.33,317.91 42.67,317.96 43.00,318.11 C43.33,318.25 43.67,318.56 44.00,318.79 C44.33,319.02 44.67,319.29 45.00,319.50 C45.33,319.71 45.67,319.89 46.00,320.07 C46.33,320.25 46.67,320.41 47.00,320.59 C47.33,320.78 47.67,320.97 48.00,321.17 C48.33,321.37 48.67,321.59 49.00,321.80 C49.33,322.01 49.67,322.23 50.00,322.43 C50.33,322.63 50.67,322.82 51.00,323.01 C51.33,323.19 51.67,323.35 52.00,323.53 C52.33,323.72 52.67,323.89 53.00,324.11 C53.33,324.33 53.67,324.60 54.00,324.87 C54.33,325.14 54.67,325.43 55.00,325.72 C55.33,326.01 55.67,326.31 56.00,326.62 C56.33,326.94 56.67,327.27 57.00,327.60 C57.33,327.93 57.67,328.26 58.00,328.61 C58.33,328.95 58.67,329.30 59.00,329.68 C59.33,330.06 59.67,330.47 60.00,330.88 C60.33,331.28 60.67,331.68 61.00,332.10 C61.33,332.52 61.67,332.95 62.00,333.40 C62.33,333.84 62.67,334.30 63.00,334.75 C63.33,335.21 63.67,335.67 64.00,336.12 C64.33,336.58 64.67,337.03 65.00,337.47 C65.33,337.92 65.67,338.36 66.00,338.79 C66.33,339.23 66.67,339.66 67.00,340.10 C67.33,340.53 67.67,340.96 68.00,341.39 C68.33,341.82 68.67,342.24 69.00,342.67 C69.33,343.10 69.67,343.52 70.00,343.95 C70.33,344.38 70.67,344.80 71.00,345.23 C71.33,345.66 71.67,346.08 72.00,346.51 C72.33,346.94 72.67,347.38 73.00,347.82 C73.33,348.26 73.67,348.71 74.00,349.18 C74.33,349.64 74.67,350.12 75.00,350.61 C75.33,351.11 75.67,351.62 76.00,352.13 C76.33,352.64 76.67,353.17 77.00,353.70 C77.33,354.23 77.67,354.77 78.00,355.30 C78.33,355.84 78.67,356.38 79.00,356.92 C79.33,357.46 79.67,358.01 80.00,358.55 C80.33,359.09 80.67,359.64 81.00,360.18 C81.33,360.72 81.67,361.26 82.00,361.80 C82.33,362.34 82.67,362.87 83.00,363.41 C83.33,363.95 83.67,364.48 84.00,365.02 C84.33,365.56 84.67,366.10 85.00,366.65 C85.33,367.20 85.67,367.75 86.00,368.31 C86.33,368.88 86.67,369.44 87.00,370.02 C87.33,370.59 87.67,371.17 88.00,371.76 C88.33,372.35 88.67,372.94 89.00,373.54 C89.33,374.15 89.67,374.76 90.00,375.37 C90.33,375.97 90.67,376.59 91.00,377.20 C91.33,377.80 91.67,378.40 92.00,378.99 C92.33,379.58 92.67,380.16 93.00,380.72 C93.33,381.28 93.67,381.82 94.00,382.35 C94.33,382.87 94.67,383.38 95.00,383.88 C95.33,384.38 95.67,384.86 96.00,385.34 C96.33,385.82 96.67,386.30 97.00,386.77 C97.33,387.25 97.67,387.73 98.00,388.21 C98.33,388.69 98.67,389.17 99.00,389.66 C99.33,390.14 99.67,390.63 100.00,391.13 C100.33,391.62 100.67,392.12 101.00,392.63 C101.33,393.14 101.67,393.65 102.00,394.17 C102.33,394.69 102.67,395.22 103.00,395.75 C103.33,396.27 103.67,396.81 104.00,397.33 C104.33,397.86 104.67,398.39 105.00,398.91 C105.33,399.43 105.67,399.94 106.00,400.45 C106.33,400.96 106.67,401.47 107.00,401.97 C107.33,402.47 107.67,402.96 108.00,403.45 C108.33,403.95 108.67,404.44 109.00,404.92 C109.33,405.40 109.67,405.88 110.00,406.36 C110.33,406.83 110.67,407.30 111.00,407.77 C111.33,408.23 111.67,408.69 112.00,409.15 C112.33,409.60 112.67,410.05 113.00,410.50 C113.33,410.95 113.67,411.39 114.00,411.82 C114.33,412.26 114.67,412.69 115.00,413.13 C115.33,413.56 115.67,413.99 116.00,414.43 C116.33,414.86 116.67,415.30 117.00,415.74 C117.33,416.18 117.67,416.62 118.00,417.07 C118.33,417.52 118.33,417.48 119.00,418.43 C119.67,419.39 121.00,421.35 122.00,422.81 C123.00,424.26 124.00,425.74 125.00,427.16 C126.00,428.57 127.00,429.99 128.00,431.31 C129.00,432.63 130.00,433.87 131.00,435.06 C132.00,436.25 133.00,437.36 134.00,438.46 C135.00,439.56 136.00,440.61 137.00,441.65 C138.00,442.68 139.00,443.70 140.00,444.69 C141.00,445.68 142.00,446.65 143.00,447.58 C144.00,448.52 145.00,449.43 146.00,450.32 C147.00,451.20 148.00,452.07 149.00,452.90 C150.00,453.74 151.00,454.55 152.00,455.33 C153.00,456.11 154.00,456.86 155.00,457.61 C156.00,458.35 157.00,459.06 158.00,459.79 C159.00,460.51 160.00,461.22 161.00,461.95 C162.00,462.68 163.00,463.42 164.00,464.15 C165.00,464.89 166.00,465.64 167.00,466.37 C168.00,467.10 169.00,467.83 170.00,468.53 C171.00,469.24 172.00,469.93 173.00,470.59 C174.00,471.26 175.00,471.90 176.00,472.53 C177.00,473.15 178.00,473.75 179.00,474.32 C180.00,474.90 181.00,475.45 182.00,475.97 C183.00,476.49 184.00,476.98 185.00,477.46 C186.00,477.94 187.00,478.39 188.00,478.84 C189.00,479.29 190.00,479.74 191.00,480.17 C192.00,480.60 193.00,481.03 194.00,481.42 C195.00,481.82 196.00,482.17 197.00,482.53 C198.00,482.90 199.00,483.26 200.00,483.64 C201.00,484.02 202.00,484.41 203.00,484.80 C204.00,485.18 205.00,485.57 206.00,485.97 C207.00,486.36 208.00,486.75 209.00,487.14 C210.00,487.53 211.00,487.92 212.00,488.30 C213.00,488.68 214.00,489.06 215.00,489.43 C216.00,489.79 217.00,490.15 218.00,490.50 C219.00,490.85 220.00,491.19 221.00,491.51 C222.00,491.84 223.00,492.16 224.00,492.46 C225.00,492.77 226.00,493.07 227.00,493.35 C228.00,493.64 229.00,493.91 230.00,494.17 C231.00,494.44 232.00,494.69 233.00,494.94 C234.00,495.18 235.00,495.42 236.00,495.65 C237.00,495.88 238.00,496.10 239.00,496.31 C240.00,496.53 241.00,496.74 242.00,496.94 C243.00,497.14 244.00,497.33 245.00,497.52 C246.00,497.71 247.00,497.89 248.00,498.07 C249.00,498.24 250.00,498.41 251.00,498.58 C252.00,498.75 253.00,498.92 254.00,499.09 C255.00,499.25 256.00,499.42 257.00,499.59 C258.00,499.76 259.00,499.94 260.00,500.12 C261.00,500.29 262.00,500.48 263.00,500.66 C264.00,500.85 265.00,501.04 266.00,501.23 C267.00,501.42 268.00,501.61 269.00,501.80 C270.00,501.99 271.00,502.18 272.00,502.37 C273.00,502.56 274.00,502.74 275.00,502.92 C276.00,503.10 277.00,503.28 278.00,503.45 C279.00,503.62 280.00,503.79 281.00,503.96 C282.00,504.12 283.00,504.28 284.00,504.44 C285.00,504.60 286.00,504.75 287.00,504.90 C288.00,505.05 289.00,505.19 290.00,505.34 C291.00,505.48 292.00,505.62 293.00,505.76 C294.00,505.90 295.00,506.04 296.00,506.17 C297.00,506.31 298.00,506.44 299.00,506.57 C300.00,506.70 301.00,506.84 302.00,506.96 C303.00,507.09 304.00,507.22 305.00,507.35 C306.00,507.47 307.00,507.60 308.00,507.72 C309.00,507.84 310.00,507.96 311.00,508.07 C312.00,508.19 313.00,508.30 314.00,508.41 C315.00,508.52 316.00,508.63 317.00,508.73 C318.00,508.83 319.00,508.93 320.00,509.03 C321.00,509.12 322.00,509.21 323.00,509.30 C324.00,509.39 325.00,509.48 326.00,509.56 C327.00,509.65 328.00,509.73 329.00,509.81 C330.00,509.89 331.00,509.97 332.00,510.05 C333.00,510.13 334.00,510.21 335.00,510.29 C336.00,510.37 337.00,510.45 338.00,510.53 C339.00,510.61 340.00,510.69 341.00,510.77 C342.00,510.85 343.00,510.93 344.00,511.01 C345.00,511.08 346.00,511.16 347.00,511.24 C348.00,511.32 349.00,511.40 350.00,511.48 C351.00,511.55 352.00,511.63 353.00,511.71 C354.00,511.78 355.00,511.86 356.00,511.93 C357.00,512.01 358.00,512.08 359.00,512.16 C360.00,512.23 361.00,512.30 362.00,512.38 C363.00,512.45 364.00,512.52 365.00,512.59 C366.00,512.66 367.00,512.73 368.00,512.80 C369.00,512.86 370.00,512.93 371.00,513.00 C372.00,513.06 373.00,513.13 374.00,513.19 C375.00,513.25 376.00,513.32 377.00,513.38 C378.00,513.44 379.00,513.50 380.00,513.56 C381.00,513.62 382.00,513.67 383.00,513.73 C384.00,513.79 385.00,513.84 386.00,513.90 C387.00,513.95 388.00,514.00 389.00,514.05 C390.00,514.10 391.00,514.15 392.00,514.20 C393.00,514.25 394.00,514.29 395.00,514.34 C396.00,514.38 397.00,514.42 398.00,514.45 C399.00,514.49 400.00,514.52 401.00,514.55 C402.00,514.58 403.00,514.61 404.00,514.63 C405.00,514.66 406.00,514.68 407.00,514.70 C408.00,514.72 409.00,514.73 410.00,514.75 C411.00,514.77 412.00,514.78 413.00,514.80 C414.00,514.81 415.00,514.83 416.00,514.84 C417.00,514.86 418.00,514.88 419.00,514.89 C420.00,514.91 421.00,514.92 422.00,514.94 C423.00,514.95 424.00,514.97 425.00,514.98 C426.00,515.00 427.00,515.01 428.00,515.02 C429.00,515.04 430.00,515.05 431.00,515.06 C432.00,515.08 433.00,515.09 434.00,515.10 C435.00,515.11 436.00,515.12 437.00,515.13 C438.00,515.14 439.00,515.15 440.00,515.16 C441.00,515.17 442.00,515.18 443.00,515.19 C444.00,515.20 445.00,515.21 446.00,515.22 C447.00,515.23 448.00,515.24 449.00,515.25 C450.00,515.26 451.00,515.27 452.00,515.27 C453.00,515.28 454.00,515.29 455.00,515.30 C456.00,515.31 457.00,515.32 458.00,515.33 C459.00,515.34 460.00,515.35 461.00,515.36 C462.00,515.36 463.00,515.37 464.00,515.38 C465.00,515.39 466.00,515.40 467.00,515.40 C468.00,515.41 469.00,515.42 470.00,515.43 C471.00,515.43 472.00,515.44 473.00,515.44 C474.00,515.45 475.33,515.45 476.00,515.46 C476.67,515.46 476.83,515.46 477.00,515.46"/>
<path stroke="#804794" d="M34.00,319.10 C34.17,319.10 34.67,319.10 35.00,319.10 C35.33,319.10 35.67,319.12 36.00,319.08 C36.33,319.03 36.67,318.96 37.00,318.83 C37.33,318.69 37.67,318.46 38.00,318.26 C38.33,318.06 38.67,317.83 39.00,317.63 C39.33,317.43 39.67,317.24 40.00,317.06 C40.33,316.88 40.67,316.72 41.00,316.55 C41.33,316.38 41.67,316.19 42.00,316.06 C42.33,315.93 42.67,315.76 43.00,315.77 C43.33,315.78 43.67,315.95 44.00,316.12 C44.33,316.29 44.67,316.54 45.00,316.77 C45.33,317.00 45.67,317.23 46.00,317.49 C46.33,317.74 46.67,318.01 47.00,318.28 C47.33,318.54 47.67,318.84 48.00,319.07 C48.33,319.30 48.67,319.50 49.00,319.66 C49.33,319.83 49.67,319.94 50.00,320.07 C50.33,320.20 50.67,320.32 51.00,320.45 C51.33,320.57 51.67,320.70 52.00,320.80 C52.33,320.91 52.67,321.01 53.00,321.10 C53.33,321.19 53.67,321.26 54.00,321.35 C54.33,321.44 54.67,321.51 55.00,321.61 C55.33,321.71 55.67,321.81 56.00,321.95 C56.33,322.08 56.67,322.25 57.00,322.42 C57.33,322.59 57.67,322.75 58.00,322.97 C58.33,323.18 58.67,323.42 59.00,323.71 C59.33,323.99 59.67,324.38 60.00,324.69 C60.33,325.01 60.67,325.30 61.00,325.60 C61.33,325.91 61.67,326.22 62.00,326.53 C62.33,326.84 62.67,327.14 63.00,327.44 C63.33,327.74 63.67,328.03 64.00,328.32 C64.33,328.61 64.67,328.89 65.00,329.18 C65.33,329.46 65.67,329.75 66.00,330.05 C66.33,330.35 66.67,330.66 67.00,330.98 C67.33,331.31 67.67,331.65 68.00,332.01 C68.33,332.37 68.67,332.74 69.00,333.12 C69.33,333.50 69.67,333.90 70.00,334.30 C70.33,334.71 70.67,335.12 71.00,335.54 C71.33,335.96 71.67,336.38 72.00,336.81 C72.33,337.24 72.67,337.67 73.00,338.10 C73.33,338.54 73.67,338.98 74.00,339.42 C74.33,339.86 74.67,340.31 75.00,340.77 C75.33,341.22 75.67,341.69 76.00,342.17 C76.33,342.64 76.67,343.14 77.00,343.64 C77.33,344.15 77.67,344.67 78.00,345.20 C78.33,345.72 78.67,346.26 79.00,346.81 C79.33,347.35 79.67,347.89 80.00,348.44 C80.33,348.98 80.67,349.53 81.00,350.07 C81.33,350.61 81.67,351.16 82.00,351.69 C82.33,352.23 82.67,352.77 83.00,353.30 C83.33,353.84 83.67,354.37 84.00,354.90 C84.33,355.42 84.67,355.95 85.00,356.47 C85.33,356.99 85.67,357.50 86.00,358.01 C86.33,358.52 86.67,359.02 87.00,359.52 C87.33,360.01 87.67,360.50 88.00,360.98 C88.33,361.46 88.67,361.93 89.00,362.40 C89.33,362.87 89.67,363.32 90.00,363.79 C90.33,364.25 90.67,364.71 91.00,365.17 C91.33,365.64 91.67,366.11 92.00,366.58 C92.33,367.05 92.67,367.54 93.00,368.01 C93.33,368.49 93.67,368.97 94.00,369.45 C94.33,369.93 94.67,370.40 95.00,370.87 C95.33,371.34 95.67,371.81 96.00,372.28 C96.33,372.75 96.67,373.22 97.00,373.70 C97.33,374.17 97.67,374.65 98.00,375.14 C98.33,375.62 98.67,376.11 99.00,376.61 C99.33,377.11 99.67,377.61 100.00,378.13 C100.33,378.64 100.67,379.17 101.00,379.72 C101.33,380.26 101.67,380.82 102.00,381.40 C102.33,381.97 102.67,382.56 103.00,383.15 C103.33,383.75 103.67,384.35 104.00,384.95 C104.33,385.54 104.67,386.14 105.00,386.73 C105.33,387.32 105.67,387.90 106.00,388.48 C106.33,389.06 106.67,389.64 107.00,390.21 C107.33,390.79 107.67,391.36 108.00,391.93 C108.33,392.51 108.67,393.08 109.00,393.65 C109.33,394.23 109.67,394.80 110.00,395.37 C110.33,395.93 110.67,396.50 111.00,397.04 C111.33,397.58 111.67,398.12 112.00,398.63 C112.33,399.14 112.67,399.63 113.00,400.11 C113.33,400.59 113.67,401.05 114.00,401.51 C114.33,401.97 114.67,402.42 115.00,402.87 C115.33,403.33 115.67,403.78 116.00,404.23 C116.33,404.69 116.67,405.15 117.00,405.61 C117.33,406.07 117.67,406.53 118.00,407.00 C118.33,407.47 118.33,407.40 119.00,408.43 C119.67,409.46 121.00,411.61 122.00,413.18 C123.00,414.75 124.00,416.34 125.00,417.86 C126.00,419.37 127.00,420.84 128.00,422.25 C129.00,423.67 130.00,425.01 131.00,426.35 C132.00,427.68 133.00,428.99 134.00,430.26 C135.00,431.54 136.00,432.79 137.00,433.99 C138.00,435.18 139.00,436.32 140.00,437.44 C141.00,438.55 142.00,439.62 143.00,440.69 C144.00,441.76 145.00,442.81 146.00,443.84 C147.00,444.86 148.00,445.87 149.00,446.84 C150.00,447.80 151.00,448.72 152.00,449.61 C153.00,450.49 154.00,451.34 155.00,452.16 C156.00,452.98 157.00,453.77 158.00,454.54 C159.00,455.31 160.00,456.03 161.00,456.75 C162.00,457.48 163.00,458.17 164.00,458.88 C165.00,459.59 166.00,460.31 167.00,461.02 C168.00,461.74 169.00,462.46 170.00,463.18 C171.00,463.90 172.00,464.63 173.00,465.35 C174.00,466.07 175.00,466.80 176.00,467.50 C177.00,468.20 178.00,468.88 179.00,469.53 C180.00,470.19 181.00,470.81 182.00,471.43 C183.00,472.04 184.00,472.63 185.00,473.21 C186.00,473.79 187.00,474.35 188.00,474.90 C189.00,475.45 190.00,475.98 191.00,476.51 C192.00,477.03 193.00,477.55 194.00,478.06 C195.00,478.56 196.00,479.06 197.00,479.55 C198.00,480.04 199.00,480.51 200.00,480.99 C201.00,481.47 202.00,481.97 203.00,482.45 C204.00,482.93 205.00,483.41 206.00,483.89 C207.00,484.36 208.00,484.83 209.00,485.29 C210.00,485.75 211.00,486.20 212.00,486.64 C213.00,487.07 214.00,487.50 215.00,487.91 C216.00,488.32 217.00,488.72 218.00,489.10 C219.00,489.48 220.00,489.85 221.00,490.20 C222.00,490.56 223.00,490.90 224.00,491.23 C225.00,491.56 226.00,491.88 227.00,492.19 C228.00,492.50 229.00,492.80 230.00,493.08 C231.00,493.37 232.00,493.65 233.00,493.91 C234.00,494.18 235.00,494.43 236.00,494.68 C237.00,494.92 238.00,495.16 239.00,495.38 C240.00,495.61 241.00,495.83 242.00,496.04 C243.00,496.25 244.00,496.45 245.00,496.65 C246.00,496.84 247.00,497.03 248.00,497.22 C249.00,497.40 250.00,497.58 251.00,497.75 C252.00,497.93 253.00,498.10 254.00,498.28 C255.00,498.45 256.00,498.62 257.00,498.80 C258.00,498.98 259.00,499.16 260.00,499.35 C261.00,499.54 262.00,499.73 263.00,499.93 C264.00,500.13 265.00,500.33 266.00,500.54 C267.00,500.74 268.00,500.95 269.00,501.15 C270.00,501.36 271.00,501.56 272.00,501.77 C273.00,501.97 274.00,502.17 275.00,502.36 C276.00,502.56 277.00,502.75 278.00,502.94 C279.00,503.13 280.00,503.31 281.00,503.49 C282.00,503.67 283.00,503.84 284.00,504.01 C285.00,504.18 286.00,504.35 287.00,504.51 C288.00,504.67 289.00,504.82 290.00,504.98 C291.00,505.13 292.00,505.28 293.00,505.43 C294.00,505.58 295.00,505.72 296.00,505.86 C297.00,506.01 298.00,506.15 299.00,506.29 C300.00,506.43 301.00,506.57 302.00,506.70 C303.00,506.84 304.00,506.98 305.00,507.11 C306.00,507.24 307.00,507.37 308.00,507.49 C309.00,507.62 310.00,507.74 311.00,507.86 C312.00,507.98 313.00,508.10 314.00,508.21 C315.00,508.32 316.00,508.43 317.00,508.53 C318.00,508.64 319.00,508.74 320.00,508.84 C321.00,508.94 322.00,509.03 323.00,509.13 C324.00,509.22 325.00,509.31 326.00,509.40 C327.00,509.49 328.00,509.58 329.00,509.66 C330.00,509.75 331.00,509.83 332.00,509.92 C333.00,510.00 334.00,510.09 335.00,510.17 C336.00,510.25 337.00,510.34 338.00,510.42 C339.00,510.50 340.00,510.58 341.00,510.66 C342.00,510.74 343.00,510.82 344.00,510.90 C345.00,510.98 346.00,511.06 347.00,511.14 C348.00,511.22 349.00,511.30 350.00,511.38 C351.00,511.45 352.00,511.53 353.00,511.61 C354.00,511.68 355.00,511.76 356.00,511.83 C357.00,511.91 358.00,511.98 359.00,512.06 C360.00,512.13 361.00,512.20 362.00,512.28 C363.00,512.35 364.00,512.42 365.00,512.49 C366.00,512.56 367.00,512.63 368.00,512.70 C369.00,512.76 370.00,512.83 371.00,512.90 C372.00,512.96 373.00,513.03 374.00,513.09 C375.00,513.15 376.00,513.22 377.00,513.28 C378.00,513.34 379.00,513.40 380.00,513.46 C381.00,513.52 382.00,513.57 383.00,513.63 C384.00,513.69 385.00,513.74 386.00,513.80 C387.00,513.85 388.00,513.90 389.00,513.95 C390.00,514.00 391.00,514.05 392.00,514.10 C393.00,514.15 394.00,514.19 395.00,514.24 C396.00,514.28 397.00,514.32 398.00,514.35 C399.00,514.39 400.00,514.42 401.00,514.45 C402.00,514.48 403.00,514.51 404.00,514.53 C405.00,514.56 406.00,514.58 407.00,514.60 C408.00,514.62 409.00,514.63 410.00,514.65 C411.00,514.67 412.00,514.68 413.00,514.70 C414.00,514.71 415.00,514.73 416.00,514.74 C417.00,514.76 418.00,514.78 419.00,514.79 C420.00,514.81 421.00,514.82 422.00,514.84 C423.00,514.85 424.00,514.87 425.00,514.88 C426.00,514.90 427.00,514.91 428.00,514.92 C429.00,514.94 430.00,514.95 431.00,514.96 C432.00,514.98 433.00,514.99 434.00,515.00 C435.00,515.01 436.00,515.02 437.00,515.03 C438.00,515.04 439.00,515.05 440.00,515.06 C441.00,515.07 442.00,515.08 443.00,515.09 C444.00,515.10 445.00,515.11 446.00,515.12 C447.00,515.13 448.00,515.14 449.00,515.15 C450.00,515.16 451.00,515.17 452.00,515.17 C453.00,515.18 454.00,515.19 455.00,515.20 C456.00,515.21 457.00,515.22 458.00,515.23 C459.00,515.24 460.00,515.25 461.00,515.26 C462.00,515.26 463.00,515.27 464.00,515.28 C465.00,515.29 466.00,515.30 467.00,515.30 C468.00,515.31 469.00,515.32 470.00,515.33 C471.00,515.33 472.00,515.34 473.00,515.34 C474.00,515.35 475.33,515.35 476.00,515.36 C476.67,515.36 476.83,515.36 477.00,515.36"/>
<path stroke="#84ae4c" d="M34.00,319.83 C34.17,319.77 34.67,319.61 35.00,319.47 C35.33,319.33 35.67,319.13 36.00,318.96 C36.33,318.80 36.67,318.63 37.00,318.47 C37.33,318.31 37.67,318.15 38.00,318.00 C38.33,317.84 38.67,317.68 39.00,317.54 C39.33,317.39 39.67,317.25 40.00,317.11 C40.33,316.97 40.67,316.85 41.00,316.72 C41.33,316.59 41.67,316.43 42.00,316.33 C42.33,316.24 42.67,316.11 43.00,316.14 C43.33,316.17 43.67,316.35 44.00,316.52 C44.33,316.69 44.67,316.95 45.00,317.16 C45.33,317.37 45.67,317.57 46.00,317.75 C46.33,317.93 46.67,318.07 47.00,318.22 C47.33,318.37 47.67,318.54 48.00,318.66 C48.33,318.78 48.67,318.91 49.00,318.94 C49.33,318.97 49.67,318.88 50.00,318.81 C50.33,318.75 50.67,318.62 51.00,318.54 C51.33,318.46 51.67,318.36 52.00,318.34 C52.33,318.32 52.67,318.36 53.00,318.41 C53.33,318.47 53.67,318.57 54.00,318.65 C54.33,318.73 54.67,318.80 55.00,318.91 C55.33,319.02 55.67,319.13 56.00,319.30 C56.33,319.46 56.67,319.69 57.00,319.90 C57.33,320.11 57.67,320.34 58.00,320.58 C58.33,320.81 58.67,321.06 59.00,321.32 C59.33,321.58 59.67,321.87 60.00,322.14 C60.33,322.41 60.67,322.67 61.00,322.93 C61.33,323.20 61.67,323.46 62.00,323.71 C62.33,323.96 62.67,324.21 63.00,324.44 C63.33,324.67 63.67,324.89 64.00,325.09 C64.33,325.29 64.67,325.47 65.00,325.64 C65.33,325.82 65.67,325.97 66.00,326.13 C66.33,326.30 66.67,326.45 67.00,326.62 C67.33,326.78 67.67,326.95 68.00,327.14 C68.33,327.32 68.67,327.51 69.00,327.72 C69.33,327.92 69.67,328.14 70.00,328.38 C70.33,328.62 70.67,328.87 71.00,329.15 C71.33,329.43 71.67,329.73 72.00,330.05 C72.33,330.38 72.67,330.72 73.00,331.07 C73.33,331.42 73.67,331.79 74.00,332.15 C74.33,332.51 74.67,332.87 75.00,333.23 C75.33,333.58 75.67,333.93 76.00,334.28 C76.33,334.63 76.67,334.97 77.00,335.33 C77.33,335.69 77.67,336.04 78.00,336.42 C78.33,336.79 78.67,337.18 79.00,337.58 C79.33,337.99 79.67,338.41 80.00,338.83 C80.33,339.26 80.67,339.71 81.00,340.16 C81.33,340.61 81.67,341.07 82.00,341.53 C82.33,342.00 82.67,342.47 83.00,342.95 C83.33,343.42 83.67,343.90 84.00,344.38 C84.33,344.86 84.67,345.34 85.00,345.82 C85.33,346.30 85.67,346.78 86.00,347.26 C86.33,347.74 86.67,348.22 87.00,348.70 C87.33,349.19 87.67,349.67 88.00,350.15 C88.33,350.64 88.67,351.13 89.00,351.61 C89.33,352.09 89.67,352.58 90.00,353.05 C90.33,353.53 90.67,354.01 91.00,354.48 C91.33,354.96 91.67,355.43 92.00,355.89 C92.33,356.36 92.67,356.83 93.00,357.29 C93.33,357.75 93.67,358.21 94.00,358.67 C94.33,359.13 94.67,359.59 95.00,360.04 C95.33,360.50 95.67,360.96 96.00,361.42 C96.33,361.88 96.67,362.35 97.00,362.82 C97.33,363.30 97.67,363.78 98.00,364.27 C98.33,364.76 98.67,365.27 99.00,365.77 C99.33,366.28 99.67,366.79 100.00,367.31 C100.33,367.83 100.67,368.35 101.00,368.87 C101.33,369.39 101.67,369.91 102.00,370.43 C102.33,370.96 102.67,371.48 103.00,372.01 C103.33,372.53 103.67,373.06 104.00,373.59 C104.33,374.11 104.67,374.64 105.00,375.17 C105.33,375.71 105.67,376.24 106.00,376.78 C106.33,377.31 106.67,377.85 107.00,378.39 C107.33,378.94 107.67,379.48 108.00,380.04 C108.33,380.59 108.67,381.15 109.00,381.71 C109.33,382.27 109.67,382.84 110.00,383.41 C110.33,383.98 110.67,384.55 111.00,385.12 C111.33,385.69 111.67,386.27 112.00,386.84 C112.33,387.41 112.67,387.98 113.00,388.55 C113.33,389.12 113.67,389.69 114.00,390.26 C114.33,390.83 114.67,391.41 115.00,391.99 C115.33,392.57 115.67,393.15 116.00,393.74 C116.33,394.33 116.67,394.92 117.00,395.51 C117.33,396.09 117.67,396.68 118.00,397.24 C118.33,397.81 118.33,397.87 119.00,398.90 C119.67,399.94 121.00,401.95 122.00,403.46 C123.00,404.97 124.00,406.48 125.00,407.96 C126.00,409.44 127.00,410.90 128.00,412.33 C129.00,413.76 130.00,415.17 131.00,416.54 C132.00,417.91 133.00,419.25 134.00,420.55 C135.00,421.86 136.00,423.12 137.00,424.36 C138.00,425.59 139.00,426.79 140.00,427.97 C141.00,429.16 142.00,430.31 143.00,431.46 C144.00,432.62 145.00,433.77 146.00,434.92 C147.00,436.07 148.00,437.24 149.00,438.36 C150.00,439.49 151.00,440.61 152.00,441.68 C153.00,442.76 154.00,443.80 155.00,444.80 C156.00,445.81 157.00,446.79 158.00,447.73 C159.00,448.67 160.00,449.57 161.00,450.45 C162.00,451.32 163.00,452.15 164.00,452.97 C165.00,453.80 166.00,454.58 167.00,455.38 C168.00,456.18 169.00,456.98 170.00,457.79 C171.00,458.60 172.00,459.44 173.00,460.24 C174.00,461.05 175.00,461.86 176.00,462.62 C177.00,463.39 178.00,464.12 179.00,464.82 C180.00,465.52 181.00,466.17 182.00,466.82 C183.00,467.47 184.00,468.09 185.00,468.70 C186.00,469.32 187.00,469.93 188.00,470.50 C189.00,471.08 190.00,471.63 191.00,472.15 C192.00,472.68 193.00,473.16 194.00,473.64 C195.00,474.13 196.00,474.59 197.00,475.04 C198.00,475.49 199.00,475.91 200.00,476.36 C201.00,476.80 202.00,477.26 203.00,477.71 C204.00,478.15 205.00,478.60 206.00,479.03 C207.00,479.47 208.00,479.91 209.00,480.34 C210.00,480.77 211.00,481.20 212.00,481.62 C213.00,482.04 214.00,482.46 215.00,482.88 C216.00,483.29 217.00,483.70 218.00,484.10 C219.00,484.50 220.00,484.89 221.00,485.27 C222.00,485.65 223.00,486.02 224.00,486.39 C225.00,486.75 226.00,487.10 227.00,487.45 C228.00,487.80 229.00,488.13 230.00,488.46 C231.00,488.79 232.00,489.12 233.00,489.43 C234.00,489.74 235.00,490.05 236.00,490.34 C237.00,490.64 238.00,490.92 239.00,491.20 C240.00,491.48 241.00,491.75 242.00,492.01 C243.00,492.27 244.00,492.52 245.00,492.77 C246.00,493.02 247.00,493.27 248.00,493.51 C249.00,493.75 250.00,493.99 251.00,494.22 C252.00,494.46 253.00,494.69 254.00,494.92 C255.00,495.14 256.00,495.36 257.00,495.58 C258.00,495.80 259.00,496.02 260.00,496.23 C261.00,496.44 262.00,496.65 263.00,496.85 C264.00,497.06 265.00,497.26 266.00,497.47 C267.00,497.67 268.00,497.87 269.00,498.08 C270.00,498.28 271.00,498.49 272.00,498.70 C273.00,498.90 274.00,499.11 275.00,499.32 C276.00,499.54 277.00,499.75 278.00,499.96 C279.00,500.17 280.00,500.38 281.00,500.59 C282.00,500.79 283.00,501.00 284.00,501.20 C285.00,501.40 286.00,501.60 287.00,501.79 C288.00,501.98 289.00,502.17 290.00,502.35 C291.00,502.54 292.00,502.72 293.00,502.90 C294.00,503.07 295.00,503.25 296.00,503.42 C297.00,503.59 298.00,503.76 299.00,503.93 C300.00,504.10 301.00,504.26 302.00,504.43 C303.00,504.59 304.00,504.75 305.00,504.91 C306.00,505.07 307.00,505.22 308.00,505.37 C309.00,505.52 310.00,505.67 311.00,505.82 C312.00,505.96 313.00,506.11 314.00,506.24 C315.00,506.38 316.00,506.52 317.00,506.65 C318.00,506.78 319.00,506.91 320.00,507.03 C321.00,507.16 322.00,507.28 323.00,507.40 C324.00,507.52 325.00,507.63 326.00,507.75 C327.00,507.86 328.00,507.97 329.00,508.09 C330.00,508.20 331.00,508.31 332.00,508.42 C333.00,508.53 334.00,508.65 335.00,508.76 C336.00,508.87 337.00,508.98 338.00,509.10 C339.00,509.21 340.00,509.33 341.00,509.44 C342.00,509.55 343.00,509.67 344.00,509.78 C345.00,509.90 346.00,510.01 347.00,510.13 C348.00,510.24 349.00,510.35 350.00,510.46 C351.00,510.57 352.00,510.68 353.00,510.79 C354.00,510.89 355.00,511.00 356.00,511.10 C357.00,511.20 358.00,511.30 359.00,511.40 C360.00,511.50 361.00,511.60 362.00,511.70 C363.00,511.80 364.00,511.89 365.00,511.98 C366.00,512.08 367.00,512.17 368.00,512.26 C369.00,512.35 370.00,512.44 371.00,512.52 C372.00,512.61 373.00,512.69 374.00,512.77 C375.00,512.86 376.00,512.94 377.00,513.02 C378.00,513.09 379.00,513.17 380.00,513.25 C381.00,513.32 382.00,513.39 383.00,513.46 C384.00,513.53 385.00,513.60 386.00,513.66 C387.00,513.72 388.00,513.78 389.00,513.84 C390.00,513.89 391.00,513.94 392.00,513.99 C393.00,514.04 394.00,514.09 395.00,514.13 C396.00,514.18 397.00,514.22 398.00,514.25 C399.00,514.29 400.00,514.32 401.00,514.35 C402.00,514.38 403.00,514.41 404.00,514.43 C405.00,514.46 406.00,514.48 407.00,514.50 C408.00,514.52 409.00,514.53 410.00,514.55 C411.00,514.57 412.00,514.58 413.00,514.60 C414.00,514.61 415.00,514.63 416.00,514.64 C417.00,514.66 418.00,514.68 419.00,514.69 C420.00,514.71 421.00,514.72 422.00,514.74 C423.00,514.75 424.00,514.77 425.00,514.78 C426.00,514.80 427.00,514.81 428.00,514.82 C429.00,514.84 430.00,514.85 431.00,514.86 C432.00,514.88 433.00,514.89 434.00,514.90 C435.00,514.91 436.00,514.92 437.00,514.93 C438.00,514.94 439.00,514.95 440.00,514.96 C441.00,514.97 442.00,514.98 443.00,514.99 C444.00,515.00 445.00,515.01 446.00,515.02 C447.00,515.03 448.00,515.04 449.00,515.05 C450.00,515.06 451.00,515.07 452.00,515.07 C453.00,515.08 454.00,515.09 455.00,515.10 C456.00,515.11 457.00,515.12 458.00,515.13 C459.00,515.14 460.00,515.15 461.00,515.16 C462.00,515.16 463.00,515.17 464.00,515.18 C465.00,515.19 466.00,515.20 467.00,515.20 C468.00,515.21 469.00,515.22 470.00,515.23 C471.00,515.23 472.00,515.24 473.00,515.24 C474.00,515.25 475.33,515.25 476.00,515.26 C476.67,515.26 476.83,515.26 477.00,515.26"/>
</g>
<g stroke="#333" stroke-width="1.3" fill="none">
<line x1="86.78" y1="233.7" x2="86.78" y2="229.1" />
<line x1="86.78" y1="5.0" x2="86.78" y2="9.6" />
<line x1="162.46" y1="233.7" x2="162.46" y2="229.1" />
<line x1="162.46" y1="5.0" x2="162.46" y2="9.6" />
<line x1="238.14" y1="233.7" x2="238.14" y2="229.1" />
<line x1="238.14" y1="5.0" x2="238.14" y2="9.6" />
<line x1="313.83" y1="233.7" x2="313.83" y2="229.1" />
<line x1="313.83" y1="5.0" x2="313.83" y2="9.6" />
<line x1="389.51" y1="233.7" x2="389.51" y2="229.1" />
<line x1="389.51" y1="5.0" x2="389.51" y2="9.6" />
<line x1="465.19" y1="233.7" x2="465.19" y2="229.1" />
<line x1="465.19" y1="5.0" x2="465.19" y2="9.6" />
<line x1="33.8" y1="233.70" x2="38.4" y2="233.70" />
<line x1="477.0" y1="233.70" x2="472.4" y2="233.70" />
<line x1="33.8" y1="186.05" x2="38.4" y2="186.05" />
<line x1="477.0" y1="186.05" x2="472.4" y2="186.05" />
<line x1="33.8" y1="138.41" x2="38.4" y2="138.41" />
<line x1="477.0" y1="138.41" x2="472.4" y2="138.41" />
<line x1="33.8" y1="90.76" x2="38.4" y2="90.76" />
<line x1="477.0" y1="90.76" x2="472.4" y2="90.76" />
<line x1="33.8" y1="43.12" x2="38.4" y2="43.12" />
<line x1="477.0" y1="43.12" x2="472.4" y2="43.12" />
</g>
<rect x="33.8" y="5.0" width="443.20" height="228.70" fill="none" stroke="#333" stroke-width="1.5"/>
<g font-size="10">
<text x="86.78" y="247.30" text-anchor="middle">300</text>
<text x="162.46" y="247.30" text-anchor="middle">400</text>
<text x="238.14" y="247.30" text-anchor="middle">500</text>
<text x="313.83" y="247.30" text-anchor="middle">600</text>
<text x="389.51" y="247.30" text-anchor="middle">700</text>
<text x="465.19" y="247.30" text-anchor="middle">800</text>
<text x="30.70" y="237.70" text-anchor="end">0</text>
<text x="30.70" y="190.05" text-anchor="end">0.5</text>
<text x="30.70" y="142.41" text-anchor="end">1</text>
<text x="30.70" y="94.76" text-anchor="end">1.5</text>
<text x="30.70" y="47.12" text-anchor="end">2</text>
</g>
<text x="255.4" y="260.7" font-size="11" text-anchor="middle">Wavelength (nm)</text>
<text transform="translate(13.2,119.3) rotate(-90)" font-size="11" text-anchor="middle">Absorbance (a.u.)</text>
<g stroke="#333" stroke-width="1.3" fill="none">
<line x1="52.76" y1="518.8" x2="52.76" y2="514.1999999999999" />
<line x1="52.76" y1="290.0" x2="52.76" y2="294.6" />
<line x1="99.89" y1="518.8" x2="99.89" y2="514.1999999999999" />
<line x1="99.89" y1="290.0" x2="99.89" y2="294.6" />
<line x1="147.03" y1="518.8" x2="147.03" y2="514.1999999999999" />
<line x1="147.03" y1="290.0" x2="147.03" y2="294.6" />
<line x1="194.17" y1="518.8" x2="194.17" y2="514.1999999999999" />
<line x1="194.17" y1="290.0" x2="194.17" y2="294.6" />
<line x1="241.31" y1="518.8" x2="241.31" y2="514.1999999999999" />
<line x1="241.31" y1="290.0" x2="241.31" y2="294.6" />
<line x1="288.45" y1="518.8" x2="288.45" y2="514.1999999999999" />
<line x1="288.45" y1="290.0" x2="288.45" y2="294.6" />
<line x1="335.59" y1="518.8" x2="335.59" y2="514.1999999999999" />
<line x1="335.59" y1="290.0" x2="335.59" y2="294.6" />
<line x1="382.72" y1="518.8" x2="382.72" y2="514.1999999999999" />
<line x1="382.72" y1="290.0" x2="382.72" y2="294.6" />
<line x1="429.86" y1="518.8" x2="429.86" y2="514.1999999999999" />
<line x1="429.86" y1="290.0" x2="429.86" y2="294.6" />
<line x1="477.00" y1="518.8" x2="477.00" y2="514.1999999999999" />
<line x1="477.00" y1="290.0" x2="477.00" y2="294.6" />
<line x1="33.9" y1="518.80" x2="38.5" y2="518.80" />
<line x1="477.0" y1="518.80" x2="472.4" y2="518.80" />
<line x1="33.9" y1="476.43" x2="38.5" y2="476.43" />
<line x1="477.0" y1="476.43" x2="472.4" y2="476.43" />
<line x1="33.9" y1="434.06" x2="38.5" y2="434.06" />
<line x1="477.0" y1="434.06" x2="472.4" y2="434.06" />
<line x1="33.9" y1="391.69" x2="38.5" y2="391.69" />
<line x1="477.0" y1="391.69" x2="472.4" y2="391.69" />
<line x1="33.9" y1="349.32" x2="38.5" y2="349.32" />
<line x1="477.0" y1="349.32" x2="472.4" y2="349.32" />
<line x1="33.9" y1="306.95" x2="38.5" y2="306.95" />
<line x1="477.0" y1="306.95" x2="472.4" y2="306.95" />
</g>
<rect x="33.9" y="290.0" width="443.10" height="228.80" fill="none" stroke="#333" stroke-width="1.5"/>
<g font-size="10">
<text x="52.76" y="532.40" text-anchor="middle">450</text>
<text x="99.89" y="532.40" text-anchor="middle">460</text>
<text x="147.03" y="532.40" text-anchor="middle">470</text>
<text x="194.17" y="532.40" text-anchor="middle">480</text>
<text x="241.31" y="532.40" text-anchor="middle">490</text>
<text x="288.45" y="532.40" text-anchor="middle">500</text>
<text x="335.59" y="532.40" text-anchor="middle">510</text>
<text x="382.72" y="532.40" text-anchor="middle">520</text>
<text x="429.86" y="532.40" text-anchor="middle">530</text>
<text x="477.00" y="532.40" text-anchor="middle">540</text>
<text x="30.80" y="522.80" text-anchor="end">0</text>
<text x="30.80" y="480.43" text-anchor="end">0.5</text>
<text x="30.80" y="438.06" text-anchor="end">1</text>
<text x="30.80" y="395.69" text-anchor="end">1.5</text>
<text x="30.80" y="353.32" text-anchor="end">2</text>
<text x="30.80" y="310.95" text-anchor="end">2.5</text>
</g>
<text x="255.4" y="545.8" font-size="11" text-anchor="middle">Wavelength (nm)</text>
<text transform="translate(13.2,404.4) rotate(-90)" font-size="11" text-anchor="middle">Absorbance (a.u.)</text>
<text x="47.5" y="24.7" font-size="11.2" style="font-weight:normal;letter-spacing:0.7px;stroke-width:0.1px">a)</text>
<text x="47.5" y="309.8" font-size="11.2" style="font-weight:normal;letter-spacing:0.7px;stroke-width:0.1px">b)</text>
<line x1="359" y1="15.20" x2="373.3" y2="15.20" stroke="#3784bd" stroke-width="1.2" stroke-opacity="0.72"/>
<text x="374.6" y="18.60" font-size="9">Kollidon + 10.58% PRX</text>
<line x1="359" y1="26.55" x2="373.3" y2="26.55" stroke="#cb6d45" stroke-width="1.2" stroke-opacity="0.72"/>
<text x="374.6" y="29.95" font-size="9">Kollidon + 12.46% PRX</text>
<line x1="359" y1="37.90" x2="373.3" y2="37.90" stroke="#e5bb50" stroke-width="1.2" stroke-opacity="0.72"/>
<text x="374.6" y="41.30" font-size="9">Kollidon + 14.45% PRX</text>
<line x1="359" y1="49.25" x2="373.3" y2="49.25" stroke="#804794" stroke-width="1.2" stroke-opacity="0.72"/>
<text x="374.6" y="52.65" font-size="9">Kollidon + 16.54% PRX</text>
<line x1="359" y1="60.60" x2="373.3" y2="60.60" stroke="#84ae4c" stroke-width="1.2" stroke-opacity="0.72"/>
<text x="374.6" y="64.00" font-size="9">Kollidon + 18.46% PRX</text>
<line x1="359" y1="300.50" x2="373.3" y2="300.50" stroke="#3784bd" stroke-width="1.2" stroke-opacity="0.72"/>
<text x="374.6" y="303.90" font-size="9">Kollidon + 10.58% PRX</text>
<line x1="359" y1="311.85" x2="373.3" y2="311.85" stroke="#cb6d45" stroke-width="1.2" stroke-opacity="0.72"/>
<text x="374.6" y="315.25" font-size="9">Kollidon + 12.46% PRX</text>
<line x1="359" y1="323.20" x2="373.3" y2="323.20" stroke="#e5bb50" stroke-width="1.2" stroke-opacity="0.72"/>
<text x="374.6" y="326.60" font-size="9">Kollidon + 14.45% PRX</text>
<line x1="359" y1="334.55" x2="373.3" y2="334.55" stroke="#804794" stroke-width="1.2" stroke-opacity="0.72"/>
<text x="374.6" y="337.95" font-size="9">Kollidon + 16.54% PRX</text>
<line x1="359" y1="345.90" x2="373.3" y2="345.90" stroke="#84ae4c" stroke-width="1.2" stroke-opacity="0.72"/>
<text x="374.6" y="349.30" font-size="9">Kollidon + 18.46% PRX</text>
</svg></body></html>
